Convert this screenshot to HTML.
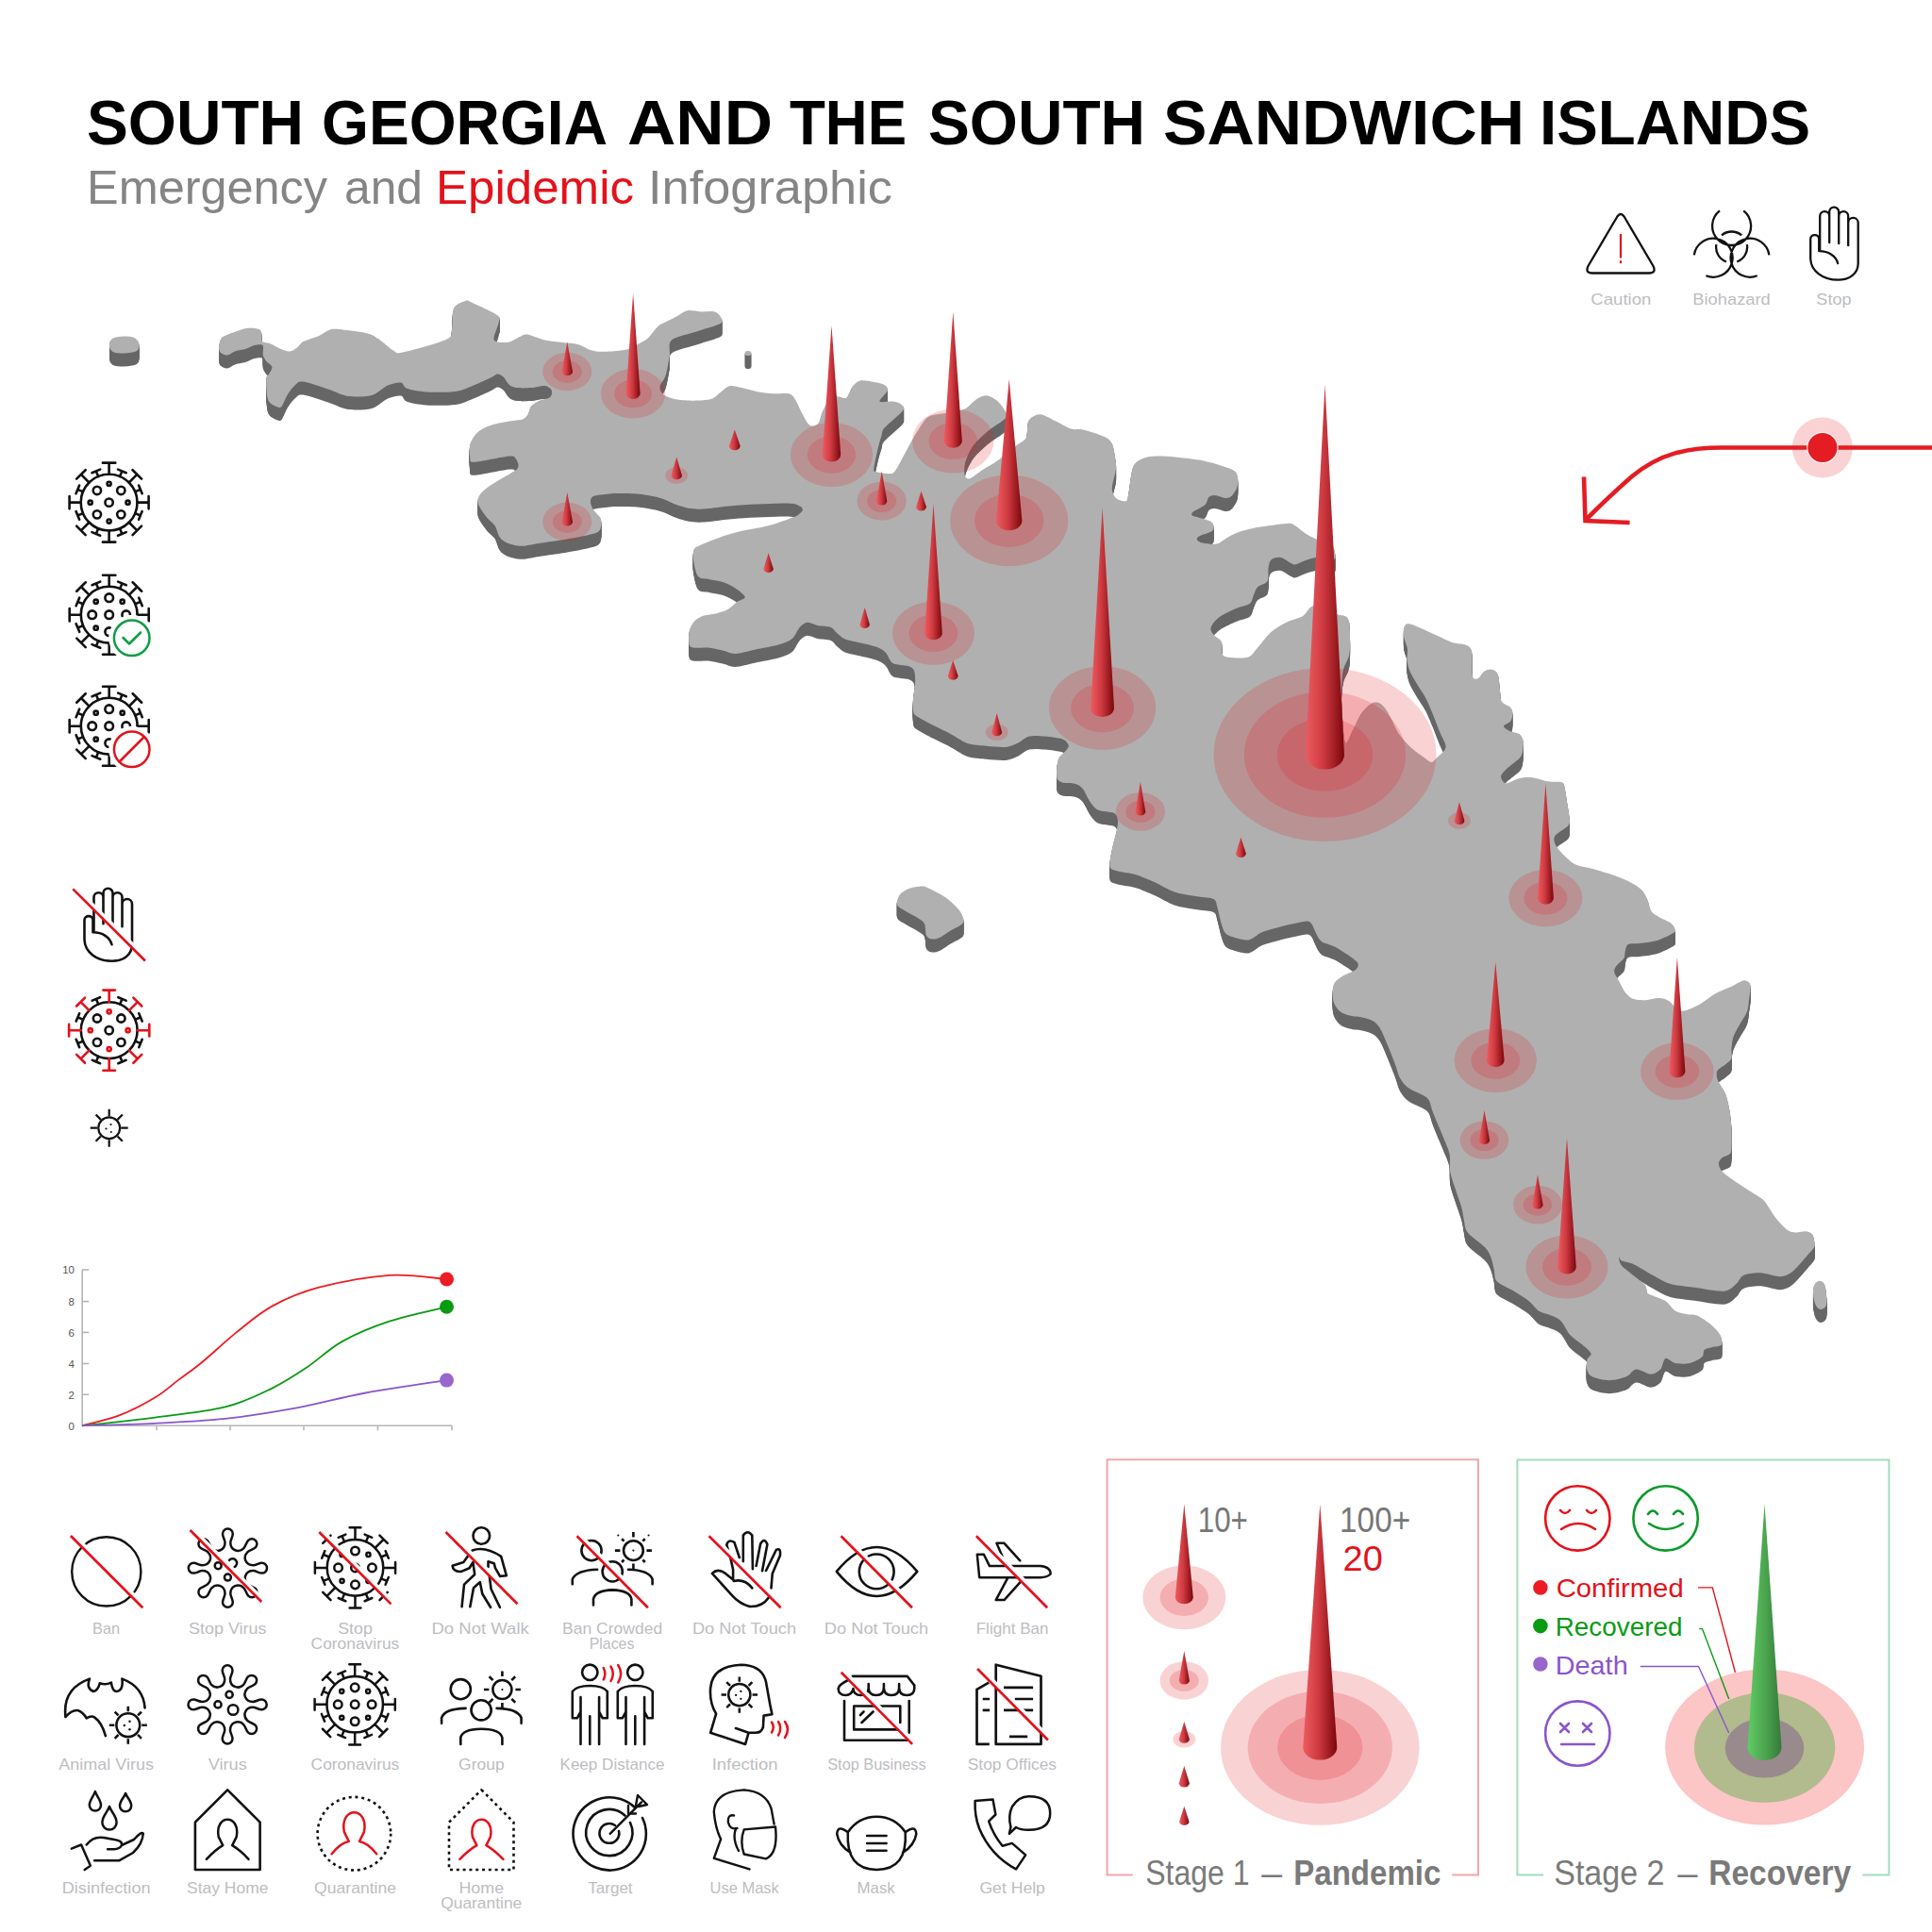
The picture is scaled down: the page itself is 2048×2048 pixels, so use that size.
<!DOCTYPE html>
<html><head><meta charset="utf-8"><title>South Georgia and the South Sandwich Islands - Emergency and Epidemic Infographic</title>
<style>html,body{margin:0;padding:0;background:#fff}svg{display:block}text{font-family:"Liberation Sans",sans-serif}</style>
</head><body>
<svg width="2048" height="2048" viewBox="0 0 2048 2048">
<defs>
<linearGradient id="cg" x1="0" x2="1" y1="0" y2="0">
<stop offset="0" stop-color="#ec5c60"/><stop offset="0.45" stop-color="#cf3a41"/><stop offset="1" stop-color="#7a070b"/>
</linearGradient>
<linearGradient id="gg" x1="0" x2="1" y1="0" y2="0">
<stop offset="0" stop-color="#5fcc62"/><stop offset="0.5" stop-color="#4ca650"/><stop offset="1" stop-color="#357a39"/>
</linearGradient>
<path id="land" d="M233.0,362.5C233.5,360.9 233.7,358.9 235.5,357.5C237.3,356.1 241.0,354.6 244.9,353.2C248.8,351.8 257.1,348.7 261.5,348.0C265.9,347.3 271.5,348.0 273.9,348.8C276.3,349.6 277.0,351.5 277.6,353.5C278.2,355.5 276.7,360.4 278.0,362.0C279.3,363.6 283.5,363.1 286.3,364.2C289.1,365.3 293.6,368.2 296.7,369.4C299.8,370.6 304.2,372.7 307.0,372.5C309.8,372.3 313.1,369.9 315.3,368.3C317.5,366.7 318.1,364.0 321.5,362.1C324.9,360.2 333.8,357.8 338.1,355.9C342.5,354.0 346.5,350.2 350.5,349.3C354.5,348.4 359.1,349.1 365.0,349.7C370.9,350.3 384.3,351.9 389.9,353.4C395.5,354.9 398.3,357.3 402.3,360.0C406.3,362.7 413.1,369.4 416.8,371.4C420.5,373.4 418.7,375.2 427.1,373.5C435.5,371.8 464.9,363.6 472.7,360.0C480.5,356.4 477.7,354.7 478.9,349.7C480.1,344.7 478.8,331.5 481.0,326.9C483.2,322.3 490.4,319.9 493.4,319.0C496.4,318.1 495.6,318.7 500.7,321.0C505.8,323.3 523.4,331.4 527.6,334.5C531.8,337.6 529.3,338.2 528.7,341.8C528.1,345.4 523.7,355.2 523.5,358.3C523.3,361.4 525.1,361.9 527.6,362.5C530.1,363.1 536.6,363.3 540.0,362.5C543.4,361.7 547.6,358.5 550.4,357.3C553.2,356.1 554.7,354.1 558.7,354.6C562.7,355.1 571.7,359.2 577.3,360.4C582.9,361.6 590.7,362.2 596.0,362.9C601.3,363.6 608.1,363.8 612.5,365.0C616.9,366.2 621.3,369.5 625.0,370.7C628.7,371.9 632.3,372.7 637.3,372.8C642.2,372.9 653.6,371.9 658.0,371.4C662.4,370.9 663.2,370.9 666.3,369.7C669.4,368.5 675.7,365.2 678.8,363.5C681.9,361.8 684.2,360.9 687.0,358.3C689.8,355.7 694.3,348.6 697.4,345.9C700.5,343.2 704.6,341.9 707.7,340.3C710.8,338.7 715.0,336.8 718.1,335.1C721.2,333.5 724.7,330.0 728.4,329.3C732.1,328.6 738.6,330.2 743.0,330.4C747.4,330.6 754.3,329.6 757.4,330.4C760.5,331.2 762.6,333.6 763.6,335.5C764.6,337.4 767.5,340.5 764.0,342.8C760.5,345.1 747.8,348.3 740.0,351.0C732.2,353.7 716.5,356.6 712.0,360.5C707.5,364.4 710.7,371.4 709.8,377.0C708.9,382.6 707.2,392.8 705.7,397.7C704.2,402.6 699.8,406.9 699.5,410.0C699.2,413.1 700.8,416.4 703.6,418.4C706.4,420.4 712.7,422.6 718.0,423.5C723.3,424.4 733.2,424.8 738.8,424.6C744.4,424.5 751.4,424.1 755.4,422.5C759.4,420.9 762.9,416.2 765.7,414.2C768.5,412.2 770.9,409.5 774.0,409.0C777.1,408.5 782.0,410.2 786.4,411.1C790.8,412.0 798.0,414.4 803.0,415.3C808.0,416.2 814.5,417.0 819.5,417.3C824.5,417.6 832.6,416.5 836.0,417.3C839.4,418.1 840.1,419.2 842.3,422.5C844.5,425.8 848.4,435.0 850.6,439.0C852.8,443.0 854.9,447.5 856.8,449.4C858.7,451.3 861.3,451.8 863.0,451.5C864.7,451.2 866.9,449.8 868.3,447.3C869.7,444.8 870.5,439.0 872.4,435.0C874.3,431.0 878.2,422.6 880.7,420.4C883.2,418.2 886.5,420.2 889.0,420.4C891.5,420.6 895.1,423.1 897.3,421.5C899.5,419.9 901.3,412.7 903.5,410.0C905.7,407.3 908.4,404.3 911.8,403.5C915.2,402.7 922.4,404.2 926.3,404.9C930.2,405.6 935.4,406.6 937.6,408.0C939.8,409.4 941.5,411.6 940.7,414.2C939.9,416.8 931.6,423.9 932.5,425.6C933.4,427.3 943.6,425.1 947.0,425.6C950.4,426.1 953.7,427.3 955.2,428.7C956.7,430.1 959.9,431.2 957.3,434.9C954.7,438.6 941.0,449.6 937.6,453.6C934.2,457.6 935.6,458.4 934.5,461.8C933.4,465.2 931.6,471.0 930.4,476.3C929.2,481.6 926.6,493.4 926.3,497.0C926.0,500.6 925.8,499.3 928.3,500.1C930.8,500.9 939.7,502.3 942.8,502.2C945.9,502.1 946.5,502.4 949.0,499.1C951.5,495.8 956.3,486.1 959.4,480.5C962.5,474.9 966.3,467.4 969.7,461.8C973.1,456.2 978.5,446.6 982.2,443.2C985.9,439.8 990.6,439.9 994.6,439.0C998.6,438.1 1004.6,437.9 1009.0,437.0C1013.4,436.1 1019.6,435.1 1023.6,432.9C1027.7,430.7 1032.6,424.5 1036.0,422.5C1039.4,420.5 1043.2,419.1 1046.3,419.4C1049.4,419.7 1053.9,422.3 1056.7,424.6C1059.5,426.9 1063.6,432.2 1065.0,435.0C1066.4,437.8 1068.8,439.8 1066.0,443.2C1063.2,446.6 1051.4,453.3 1046.3,457.7C1041.2,462.1 1035.2,467.5 1031.8,472.2C1028.4,476.9 1025.0,484.1 1023.6,488.8C1022.2,493.5 1021.9,500.5 1022.5,503.3C1023.1,506.1 1025.1,508.0 1027.7,507.4C1030.3,506.8 1035.8,501.9 1040.1,499.1C1044.4,496.3 1051.1,492.8 1056.7,488.8C1062.3,484.8 1072.8,475.9 1077.4,472.2C1082.1,468.5 1085.8,467.6 1087.7,463.9C1089.6,460.2 1088.6,450.7 1089.8,447.3C1091.0,443.9 1093.8,442.3 1096.0,441.1C1098.2,439.9 1100.9,438.7 1104.3,439.5C1107.7,440.3 1114.1,444.0 1118.8,446.3C1123.5,448.6 1131.1,453.2 1135.4,454.6C1139.8,456.0 1142.5,454.4 1147.8,455.6C1153.1,456.8 1165.9,460.7 1170.6,462.9C1175.2,465.1 1177.1,466.8 1178.8,470.1C1180.5,473.4 1181.4,480.6 1182.0,484.6C1182.6,488.6 1183.5,492.0 1183.0,497.0C1182.5,502.0 1178.8,513.0 1178.8,517.7C1178.8,522.4 1181.1,526.1 1183.0,528.1C1184.9,530.1 1189.4,531.2 1191.3,531.2C1193.2,531.2 1194.2,532.6 1195.4,528.1C1196.6,523.6 1198.3,506.8 1199.5,501.2C1200.7,495.6 1201.2,493.3 1203.7,490.8C1206.2,488.3 1211.8,485.7 1216.1,484.6C1220.4,483.5 1227.6,483.5 1232.7,483.6C1237.8,483.7 1244.3,484.4 1250.0,485.0C1255.7,485.6 1264.7,486.4 1271.0,487.6C1277.3,488.8 1286.2,491.1 1291.8,492.8C1297.4,494.5 1305.3,497.0 1308.3,499.0C1311.3,501.0 1311.5,503.7 1312.0,506.3C1312.5,508.9 1312.3,513.8 1311.4,516.6C1310.5,519.4 1308.0,523.2 1306.3,524.9C1304.6,526.6 1302.8,528.0 1300.0,528.0C1297.2,528.0 1290.4,525.0 1287.6,524.9C1284.8,524.8 1282.9,525.5 1281.4,527.0C1279.9,528.5 1279.8,532.9 1277.3,535.2C1274.8,537.5 1266.8,540.8 1264.8,542.5C1262.8,544.2 1262.9,545.7 1263.8,546.6C1264.7,547.5 1268.0,547.8 1271.0,548.7C1274.0,549.6 1281.2,551.4 1283.5,552.8C1285.8,554.2 1286.4,556.4 1286.6,558.0C1286.8,559.6 1286.8,561.6 1284.5,563.2C1282.2,564.8 1273.3,567.0 1271.0,568.4C1268.7,569.8 1268.4,571.4 1269.0,572.5C1269.6,573.6 1272.1,575.0 1275.2,575.6C1278.3,576.2 1286.0,577.4 1289.7,576.6C1293.4,575.8 1296.6,572.3 1300.0,570.4C1303.4,568.5 1307.5,565.9 1312.5,564.2C1317.5,562.5 1325.4,560.4 1333.2,559.0C1341.0,557.6 1358.3,555.2 1364.2,554.9C1370.1,554.6 1369.4,555.3 1372.5,557.0C1375.6,558.7 1381.3,564.0 1385.0,566.3C1388.7,568.6 1393.4,570.6 1397.4,572.5C1401.4,574.4 1409.2,576.8 1411.8,578.7C1414.4,580.6 1414.7,582.8 1415.0,585.0C1415.3,587.2 1417.0,592.3 1414.0,593.2C1411.0,594.1 1400.3,590.8 1395.3,591.1C1390.3,591.4 1384.4,594.2 1380.8,595.3C1377.2,596.4 1374.9,599.0 1371.5,598.4C1368.1,597.8 1361.6,591.9 1358.0,591.1C1354.4,590.3 1349.7,591.6 1347.7,593.2C1345.7,594.8 1345.2,598.1 1344.6,601.5C1344.0,604.9 1345.2,612.9 1343.5,616.0C1341.8,619.1 1335.4,620.0 1333.2,622.2C1331.0,624.4 1330.2,627.9 1329.0,630.5C1327.8,633.1 1327.7,637.6 1324.9,639.8C1322.1,642.0 1315.1,643.0 1310.4,645.0C1305.7,647.0 1297.5,650.8 1293.8,653.3C1290.1,655.8 1287.0,659.3 1285.5,661.5C1284.0,663.7 1283.2,665.8 1283.5,667.7C1283.8,669.6 1285.9,672.1 1287.6,674.0C1289.3,675.9 1293.7,677.3 1294.9,680.2C1296.1,683.1 1294.8,691.1 1295.9,693.6C1297.0,696.1 1298.1,696.2 1302.1,696.7C1306.1,697.2 1318.1,698.2 1322.8,696.7C1327.5,695.2 1329.5,690.4 1333.2,686.4C1336.9,682.4 1343.0,673.8 1347.7,669.8C1352.4,665.8 1359.2,662.0 1364.2,659.5C1369.2,657.0 1377.1,655.6 1380.8,653.3C1384.5,651.0 1386.5,645.7 1389.0,644.0C1391.5,642.3 1393.1,640.8 1397.4,641.9C1401.8,643.0 1413.7,649.5 1418.0,651.2C1422.3,652.9 1424.4,651.8 1426.3,653.3C1428.2,654.8 1429.9,655.6 1430.5,661.5C1431.1,667.4 1431.5,685.3 1430.5,692.6C1429.5,699.9 1425.3,704.4 1424.0,710.0C1422.7,715.6 1422.2,722.5 1422.0,730.0C1421.8,737.5 1422.4,751.4 1423.0,760.0C1423.6,768.6 1424.6,785.4 1426.3,787.3C1428.0,789.2 1432.1,777.4 1434.6,772.8C1437.1,768.1 1440.2,760.3 1443.0,756.3C1445.8,752.3 1450.5,747.6 1453.3,745.9C1456.1,744.2 1459.3,744.3 1461.5,744.9C1463.7,745.5 1465.8,747.7 1467.7,750.0C1469.6,752.3 1471.8,756.4 1474.0,760.4C1476.2,764.4 1479.1,772.4 1482.2,777.0C1485.3,781.6 1490.7,787.5 1494.7,791.4C1498.8,795.3 1505.8,800.3 1509.2,802.8C1512.6,805.3 1515.2,808.0 1517.4,808.0C1519.6,808.0 1521.6,804.7 1523.6,802.8C1525.6,800.9 1529.7,797.6 1531.0,795.6C1532.3,793.6 1532.9,792.2 1532.3,789.4C1531.7,786.6 1528.8,782.0 1526.7,777.0C1524.6,772.0 1520.8,761.9 1518.5,756.3C1516.2,750.7 1513.7,744.4 1511.2,739.7C1508.7,735.0 1504.5,729.2 1502.0,725.0C1499.5,720.8 1496.3,715.8 1494.7,712.0C1493.1,708.2 1491.9,703.6 1491.5,700.0C1491.1,696.4 1492.5,691.6 1492.0,688.0C1491.5,684.4 1488.9,679.5 1488.4,676.0C1487.9,672.5 1487.5,667.2 1488.4,665.0C1489.3,662.8 1490.0,660.5 1494.7,661.5C1499.4,662.5 1512.7,668.9 1519.5,671.9C1526.3,674.9 1535.2,679.5 1540.2,681.2C1545.2,682.9 1549.6,682.0 1552.6,683.3C1555.6,684.6 1558.7,685.0 1560.0,690.0C1561.3,695.0 1559.9,712.5 1561.0,716.9C1562.1,721.2 1565.3,719.8 1567.1,719.0C1568.9,718.2 1571.1,713.1 1573.3,711.7C1575.5,710.3 1579.4,709.2 1581.6,709.7C1583.8,710.2 1586.5,711.5 1587.8,714.8C1589.1,718.1 1589.4,727.0 1590.0,731.4C1590.6,735.8 1590.3,741.0 1592.0,743.8C1593.7,746.6 1599.6,748.1 1601.3,750.0C1603.0,751.9 1603.4,754.1 1603.4,756.3C1603.4,758.5 1602.7,762.5 1601.3,764.5C1599.9,766.5 1594.2,768.1 1594.0,769.7C1593.8,771.3 1597.7,773.7 1600.2,774.9C1602.7,776.1 1608.4,776.5 1610.6,778.0C1612.8,779.5 1614.1,783.1 1614.7,785.2C1615.3,787.3 1614.9,789.4 1614.5,792.0C1614.1,794.6 1614.4,799.0 1611.8,802.4C1609.2,805.8 1600.4,811.7 1597.3,814.8C1594.2,817.9 1591.2,820.8 1591.1,823.1C1590.9,825.4 1593.5,830.1 1596.3,830.4C1599.1,830.7 1605.5,826.1 1609.7,825.2C1613.9,824.3 1619.5,823.7 1624.2,824.2C1628.9,824.7 1636.1,827.5 1640.8,828.3C1645.5,829.1 1652.7,828.5 1655.3,829.3C1657.9,830.1 1657.5,830.1 1658.4,833.5C1659.3,836.9 1660.7,847.1 1661.5,852.1C1662.3,857.1 1663.4,863.2 1663.6,866.6C1663.8,870.0 1664.7,872.1 1662.5,874.9C1660.3,877.7 1651.2,882.4 1649.0,885.2C1646.8,888.0 1647.1,890.7 1648.0,893.5C1648.9,896.3 1652.0,900.5 1655.3,903.9C1658.6,907.3 1665.1,913.8 1669.8,916.3C1674.5,918.8 1680.7,918.9 1686.3,920.4C1691.9,921.9 1700.8,924.4 1707.0,926.6C1713.2,928.8 1722.7,932.4 1727.7,934.9C1732.7,937.4 1737.4,940.4 1740.2,943.2C1743.0,946.0 1744.9,950.2 1746.4,953.6C1747.9,957.0 1748.6,963.2 1750.5,966.0C1752.4,968.8 1755.7,970.3 1758.8,972.2C1761.9,974.1 1768.7,976.5 1771.2,978.4C1773.7,980.3 1774.9,983.0 1775.4,984.6C1775.9,986.2 1777.1,986.9 1774.3,988.8C1771.5,990.7 1762.1,995.3 1756.7,997.0C1751.3,998.7 1742.8,999.5 1738.1,1000.1C1733.4,1000.7 1728.0,999.8 1725.7,1001.2C1723.4,1002.6 1723.2,1007.3 1722.6,1009.5C1722.0,1011.7 1722.9,1013.5 1721.5,1015.7C1720.1,1017.9 1714.8,1021.8 1713.3,1024.0C1711.8,1026.2 1710.9,1028.0 1711.2,1030.2C1711.5,1032.4 1713.4,1035.0 1715.3,1038.4C1717.2,1041.8 1721.1,1049.8 1723.6,1052.9C1726.1,1056.0 1728.8,1058.0 1731.9,1059.1C1735.0,1060.2 1740.3,1060.4 1744.3,1060.2C1748.3,1060.0 1755.1,1057.9 1758.8,1058.1C1762.5,1058.2 1765.8,1059.2 1769.2,1061.2C1772.6,1063.2 1776.9,1071.0 1781.6,1071.6C1786.2,1072.2 1794.6,1068.2 1800.2,1065.4C1805.8,1062.6 1813.5,1056.0 1818.8,1053.0C1824.1,1050.0 1831.1,1047.7 1835.4,1045.7C1839.8,1043.7 1845.0,1040.1 1847.8,1039.5C1850.6,1038.9 1852.8,1040.5 1854.0,1041.6C1855.2,1042.7 1855.7,1043.9 1855.7,1046.7C1855.7,1049.5 1854.6,1056.1 1854.0,1060.0C1853.4,1063.9 1853.5,1068.4 1851.9,1072.4C1850.3,1076.4 1845.8,1082.9 1843.6,1086.9C1841.4,1090.9 1838.6,1095.6 1837.4,1099.3C1836.2,1103.0 1835.7,1108.4 1835.4,1111.8C1835.1,1115.2 1836.3,1119.6 1835.4,1122.1C1834.5,1124.6 1831.4,1126.4 1829.2,1128.3C1827.0,1130.2 1822.3,1132.6 1820.9,1134.5C1819.5,1136.4 1819.6,1138.8 1819.8,1140.7C1820.0,1142.6 1820.5,1144.2 1821.9,1147.0C1823.3,1149.8 1827.5,1155.1 1829.2,1159.4C1830.9,1163.8 1832.4,1170.7 1833.3,1176.0C1834.2,1181.3 1835.1,1188.4 1835.4,1194.6C1835.7,1200.8 1835.7,1213.1 1835.4,1217.4C1835.1,1221.8 1834.9,1222.1 1833.3,1223.6C1831.7,1225.1 1826.7,1226.2 1825.0,1227.7C1823.3,1229.2 1821.8,1231.7 1821.9,1233.9C1822.1,1236.1 1823.4,1239.4 1826.0,1242.2C1828.6,1245.0 1835.3,1249.5 1839.5,1252.5C1843.7,1255.5 1849.7,1259.1 1854.0,1261.9C1858.3,1264.7 1865.4,1268.6 1868.5,1271.2C1871.6,1273.8 1872.5,1276.4 1874.7,1279.5C1876.9,1282.6 1879.9,1288.2 1883.0,1291.9C1886.1,1295.6 1892.3,1302.1 1895.4,1304.3C1898.5,1306.5 1900.9,1306.2 1903.7,1306.4C1906.5,1306.6 1911.4,1305.0 1914.0,1305.3C1916.6,1305.6 1919.9,1306.7 1921.3,1308.4C1922.7,1310.1 1923.1,1314.6 1923.4,1316.7C1923.7,1318.8 1924.4,1319.9 1923.2,1322.1C1922.0,1324.3 1919.0,1327.3 1915.5,1331.2C1912.0,1335.1 1904.3,1344.7 1900.0,1348.0C1895.7,1351.3 1892.1,1353.0 1887.0,1353.2C1881.9,1353.4 1872.1,1349.5 1866.3,1349.3C1860.5,1349.1 1852.1,1350.1 1848.2,1351.9C1844.3,1353.7 1843.5,1358.5 1840.4,1361.0C1837.3,1363.5 1834.1,1368.1 1827.5,1368.7C1820.9,1369.3 1804.9,1366.0 1796.4,1364.8C1787.9,1363.6 1777.2,1362.9 1770.6,1361.0C1764.0,1359.1 1758.2,1355.0 1752.4,1351.9C1746.6,1348.8 1736.7,1342.5 1731.7,1340.2C1726.7,1337.9 1721.1,1337.5 1718.8,1336.3C1716.5,1335.1 1716.5,1332.2 1716.2,1332.5C1715.9,1332.8 1716.2,1336.3 1717.0,1338.0C1717.8,1339.7 1718.0,1341.1 1721.4,1344.1C1724.8,1347.1 1736.0,1355.4 1739.5,1358.3C1743.0,1361.2 1743.5,1361.5 1744.7,1363.5C1745.9,1365.5 1744.2,1369.0 1747.3,1371.3C1750.4,1373.6 1761.1,1376.3 1765.4,1379.0C1769.7,1381.7 1772.2,1387.3 1775.7,1389.4C1779.2,1391.5 1785.2,1392.5 1788.7,1393.3C1792.2,1394.1 1795.1,1392.9 1799.0,1394.6C1802.9,1396.3 1810.9,1401.8 1814.6,1404.9C1818.3,1408.0 1822.1,1412.2 1823.6,1415.3C1825.1,1418.4 1826.2,1423.7 1824.9,1425.6C1823.6,1427.5 1817.3,1427.4 1814.6,1428.2C1811.9,1429.0 1808.4,1429.2 1806.8,1430.8C1805.2,1432.4 1806.5,1436.5 1804.2,1438.6C1801.9,1440.7 1795.6,1444.0 1791.3,1445.0C1787.0,1446.0 1779.6,1445.8 1775.7,1445.0C1771.8,1444.2 1767.7,1438.9 1765.4,1439.9C1763.1,1440.9 1762.5,1449.0 1760.2,1451.5C1757.9,1454.0 1753.8,1456.7 1749.9,1456.7C1746.0,1456.7 1738.2,1451.1 1734.3,1451.5C1730.4,1451.9 1728.3,1457.5 1724.0,1459.3C1719.7,1461.1 1711.3,1463.2 1705.9,1463.2C1700.5,1463.2 1691.3,1461.1 1687.7,1459.3C1684.1,1457.5 1682.8,1454.2 1682.0,1451.5C1681.2,1448.8 1681.9,1443.7 1682.6,1441.2C1683.3,1438.7 1687.3,1437.0 1686.5,1434.7C1685.7,1432.4 1680.7,1428.5 1677.4,1425.6C1674.1,1422.7 1668.0,1419.2 1664.5,1415.3C1661.0,1411.4 1657.6,1403.0 1654.1,1399.7C1650.6,1396.4 1644.7,1394.8 1641.2,1393.3C1637.7,1391.8 1633.9,1391.5 1630.8,1389.4C1627.7,1387.3 1624.4,1382.1 1620.5,1379.0C1616.6,1375.9 1610.0,1371.8 1604.9,1368.7C1599.8,1365.6 1590.0,1361.8 1586.8,1358.3C1583.6,1354.8 1584.7,1349.3 1583.7,1345.4C1582.7,1341.5 1581.8,1336.0 1580.3,1332.5C1578.8,1329.0 1577.6,1326.0 1573.9,1322.1C1570.2,1318.2 1559.1,1310.9 1555.8,1306.6C1552.5,1302.3 1552.8,1297.5 1551.9,1293.6C1551.0,1289.7 1551.0,1286.1 1549.6,1280.9C1548.2,1275.7 1544.2,1265.0 1542.3,1259.1C1540.4,1253.2 1538.1,1247.1 1537.2,1241.7C1536.3,1236.3 1537.7,1228.5 1536.5,1222.9C1535.3,1217.3 1531.9,1210.6 1529.3,1204.1C1526.7,1197.6 1521.3,1185.1 1519.1,1179.4C1516.9,1173.7 1516.5,1169.2 1514.8,1166.4C1513.1,1163.6 1510.8,1162.6 1507.5,1160.6C1504.2,1158.6 1496.5,1155.9 1493.0,1153.3C1489.5,1150.7 1486.5,1147.1 1484.3,1143.2C1482.1,1139.3 1480.8,1132.9 1478.6,1127.2C1476.4,1121.5 1472.3,1111.1 1469.9,1105.5C1467.5,1099.9 1464.8,1093.1 1462.6,1089.6C1460.4,1086.1 1458.0,1083.9 1455.4,1082.3C1452.8,1080.7 1448.9,1079.6 1445.2,1078.7C1441.5,1077.8 1434.4,1077.5 1430.7,1076.5C1427.0,1075.5 1423.1,1074.2 1420.6,1072.2C1418.1,1070.2 1415.3,1066.5 1414.1,1063.5C1412.9,1060.5 1412.5,1055.2 1412.6,1051.9C1412.7,1048.6 1413.2,1044.3 1414.8,1041.7C1416.4,1039.1 1420.2,1036.6 1423.5,1034.5C1426.8,1032.4 1434.6,1030.0 1437.0,1028.0C1439.4,1026.0 1440.4,1023.3 1439.5,1021.2C1438.6,1019.1 1435.0,1016.6 1431.3,1014.0C1427.6,1011.4 1419.4,1006.1 1414.7,1003.6C1410.0,1001.1 1403.3,999.9 1400.2,997.4C1397.1,994.9 1395.5,989.8 1394.0,987.0C1392.5,984.2 1391.5,980.3 1389.9,978.8C1388.3,977.3 1388.3,976.2 1383.6,976.7C1378.9,977.2 1365.6,980.2 1358.8,981.9C1352.0,983.6 1343.4,985.9 1338.1,988.1C1332.8,990.3 1328.3,995.6 1323.6,996.4C1318.9,997.2 1310.7,994.4 1307.0,993.3C1303.3,992.2 1300.7,991.3 1298.8,989.1C1296.9,986.9 1295.8,982.8 1294.6,978.8C1293.4,974.8 1291.7,966.1 1290.5,962.2C1289.3,958.3 1290.0,954.8 1286.3,952.9C1282.6,951.0 1271.8,950.9 1265.6,949.8C1259.4,948.7 1251.1,947.8 1244.9,945.6C1238.7,943.4 1230.4,938.1 1224.2,935.3C1218.0,932.5 1209.1,928.7 1203.5,927.0C1197.9,925.3 1190.9,924.8 1187.0,923.9C1183.1,923.0 1179.2,922.5 1177.6,920.8C1176.0,919.1 1176.3,916.2 1176.6,912.5C1176.9,908.8 1178.6,900.9 1179.7,895.9C1180.8,890.9 1183.1,883.4 1183.9,879.4C1184.7,875.4 1185.4,871.6 1184.9,869.0C1184.4,866.4 1183.8,863.3 1180.7,861.8C1177.6,860.3 1167.9,860.4 1164.2,858.7C1160.5,857.0 1158.4,853.8 1155.9,850.4C1153.4,847.0 1150.1,838.9 1147.6,835.9C1145.1,832.9 1142.4,831.6 1139.3,830.7C1136.2,829.8 1129.7,830.5 1126.9,829.7C1124.1,828.9 1121.7,828.0 1120.7,825.5C1119.7,823.0 1120.0,816.5 1120.3,813.1C1120.6,809.7 1121.3,805.5 1122.8,802.8C1124.3,800.1 1129.0,797.0 1130.5,795.0C1132.0,793.0 1133.2,791.5 1132.6,789.8C1132.0,788.1 1130.1,785.0 1126.4,783.6C1122.7,782.2 1113.0,781.0 1107.7,780.5C1102.4,780.0 1095.5,779.4 1091.2,780.5C1086.9,781.6 1082.5,786.0 1078.8,787.7C1075.1,789.4 1071.3,791.4 1066.3,791.9C1061.3,792.4 1051.8,791.4 1045.6,790.8C1039.4,790.2 1030.5,789.6 1024.9,787.7C1019.3,785.8 1013.7,781.2 1008.4,778.4C1003.1,775.6 995.3,772.0 989.7,769.1C984.1,766.2 974.4,761.3 971.1,758.8C967.8,756.3 968.5,755.3 968.0,752.5C967.5,749.7 967.7,744.4 968.0,740.1C968.3,735.8 970.0,728.0 970.1,723.6C970.2,719.2 970.1,713.7 969.0,711.1C967.9,708.5 966.2,707.2 962.8,706.0C959.4,704.8 949.9,705.0 946.3,702.9C942.7,700.8 941.5,694.4 938.8,691.8C936.1,689.2 933.1,687.3 928.4,685.6C923.7,683.9 912.7,681.7 907.7,680.5C902.7,679.3 898.4,678.7 895.3,677.3C892.2,675.9 889.2,673.0 887.0,671.1C884.8,669.2 883.9,666.1 880.8,664.9C877.7,663.7 870.0,663.7 866.3,662.9C862.6,662.1 858.8,659.5 856.0,659.8C853.2,660.1 850.2,662.3 847.7,664.9C845.2,667.5 842.8,674.5 839.4,677.3C836.0,680.1 830.8,681.9 824.9,683.6C819.0,685.3 806.9,687.3 800.1,688.7C793.3,690.1 784.4,692.7 779.4,692.9C774.4,693.1 771.0,690.7 767.0,689.8C763.0,688.9 757.2,687.2 752.5,686.7C747.8,686.2 739.2,687.2 735.9,686.7C732.6,686.2 731.5,686.2 730.7,683.6C729.9,681.0 729.9,672.8 730.7,669.1C731.5,665.4 733.6,661.2 735.9,658.7C738.2,656.2 742.9,653.7 746.3,652.5C749.7,651.3 755.0,651.3 758.7,650.4C762.4,649.5 767.7,648.2 771.1,646.3C774.5,644.4 778.6,640.0 781.4,638.0C784.2,636.0 790.0,635.0 789.7,632.8C789.4,630.6 782.8,625.8 779.4,623.5C776.0,621.2 771.0,618.7 767.0,617.3C763.0,615.9 756.5,615.1 752.5,614.2C748.5,613.3 742.6,614.4 740.0,611.1C737.4,607.8 735.5,596.9 734.9,592.5C734.3,588.1 734.8,584.3 735.9,582.1C737.0,579.9 738.1,579.9 742.1,578.0C746.1,576.1 756.6,571.9 762.8,569.7C769.0,567.5 775.7,565.4 783.5,563.5C791.3,561.6 805.9,559.6 814.6,557.3C823.3,555.0 836.6,549.8 841.5,548.0C846.4,546.2 845.6,546.1 847.0,545.0C848.4,543.9 850.7,542.0 850.8,540.7C850.9,539.4 850.0,537.7 847.7,536.6C845.4,535.5 844.9,533.7 835.3,533.5C825.7,533.3 797.5,534.6 783.5,535.5C769.5,536.4 751.4,539.5 742.1,539.7C732.8,539.9 727.6,538.3 721.4,536.6C715.2,534.9 706.9,530.2 700.7,528.3C694.5,526.4 686.1,524.9 680.0,524.1C673.9,523.3 665.2,523.1 660.0,523.0C654.8,522.9 650.2,523.0 645.6,523.5C641.0,524.0 632.0,524.7 629.1,526.0C626.2,527.3 626.0,530.0 626.0,532.2C626.0,534.4 627.6,538.0 629.1,540.5C630.6,543.0 635.1,546.3 636.3,548.8C637.5,551.3 637.8,554.8 637.3,557.1C636.8,559.4 636.9,562.4 633.2,564.3C629.5,566.2 619.3,568.1 612.5,569.5C605.7,570.9 594.5,572.5 587.7,573.6C580.9,574.7 572.3,575.9 567.0,576.7C561.7,577.5 556.9,578.9 552.5,578.8C548.1,578.6 541.4,577.1 538.0,575.7C534.6,574.3 531.7,572.3 529.7,569.5C527.7,566.7 526.5,560.2 524.5,557.1C522.5,554.0 518.8,552.2 516.2,548.8C513.6,545.4 508.0,538.0 506.9,534.3C505.8,530.6 506.8,527.1 509.0,524.0C511.2,520.9 516.4,517.0 521.4,513.6C526.4,510.2 538.1,503.7 542.1,501.2C546.1,498.7 547.2,498.4 548.3,497.0C549.4,495.6 549.7,493.6 549.4,491.9C549.1,490.2 547.7,486.9 546.3,485.7C544.9,484.5 546.5,483.0 540.0,483.6C533.5,484.2 509.1,489.7 502.8,489.8C496.5,489.9 498.8,487.6 498.2,484.6C497.6,481.6 497.3,474.1 498.6,470.1C499.9,466.1 503.5,460.6 506.9,457.7C510.3,454.8 516.1,452.2 521.4,450.5C526.7,448.8 537.1,447.2 542.1,446.3C547.1,445.4 551.9,445.3 554.5,444.2C557.1,443.1 558.5,441.1 559.7,439.1C560.9,437.1 561.1,432.9 562.8,430.8C564.5,428.7 568.1,426.4 571.1,425.0C574.1,423.6 580.4,422.8 582.5,421.5C584.6,420.2 584.9,417.7 585.0,416.3C585.1,414.9 584.7,413.2 583.5,412.1C582.3,411.0 580.4,409.1 577.3,409.0C574.2,408.9 567.1,410.8 562.8,411.1C558.4,411.4 551.7,411.6 548.3,411.1C544.9,410.6 542.2,409.7 540.0,408.0C537.8,406.3 535.7,401.4 533.8,399.7C531.9,398.0 529.5,396.6 527.6,396.6C525.7,396.6 525.4,397.8 521.4,399.7C517.4,401.6 506.5,406.7 500.7,409.0C494.9,411.3 490.3,414.0 483.0,415.0C475.7,416.0 459.8,416.0 452.0,415.5C444.2,415.0 435.4,413.3 431.3,411.8C427.2,410.3 428.1,406.1 425.0,405.6C421.9,405.1 415.2,406.7 410.6,408.7C406.0,410.7 400.2,417.3 394.0,419.0C387.8,420.7 376.0,421.0 369.2,420.1C362.4,419.2 355.6,415.1 348.4,412.8C341.2,410.5 326.8,405.4 321.5,404.6C316.2,403.8 315.8,405.7 313.3,407.7C310.8,409.7 307.2,414.6 305.0,418.0C302.8,421.4 300.4,428.4 298.8,430.4C297.2,432.4 296.8,432.4 294.6,431.5C292.4,430.6 286.2,428.7 284.3,424.2C282.4,419.7 282.1,405.6 282.2,401.4C282.3,397.2 284.4,398.2 285.3,396.3C286.2,394.4 288.9,391.0 288.4,389.0C287.9,387.0 283.6,384.7 282.2,382.8C280.8,380.9 279.4,379.1 278.8,376.6C278.2,374.1 279.8,367.6 278.5,366.0C277.2,364.4 272.6,365.5 270.0,366.0C267.4,366.5 264.6,368.4 261.5,369.4C258.4,370.4 252.1,371.4 249.0,372.5C245.9,373.6 243.1,376.5 240.8,376.6C238.5,376.8 234.8,374.8 233.5,373.5C232.2,372.2 232.1,369.6 232.0,368.0C231.9,366.4 232.5,364.1 233.0,362.5ZM951.1,954.8C951.8,953.0 952.6,949.5 954.8,947.3C957.0,945.1 960.6,943.0 964.2,941.7C967.8,940.4 973.5,939.8 976.6,939.6C979.7,939.5 980.2,939.8 982.8,940.8C985.4,941.8 988.5,943.5 992.1,945.5C995.7,947.5 1000.6,949.9 1004.5,952.9C1008.4,955.9 1013.0,960.3 1015.7,963.5C1018.4,966.7 1019.8,969.8 1020.7,972.2C1021.6,974.6 1021.9,976.2 1021.3,977.8C1020.7,979.3 1019.3,980.0 1017.0,981.5C1014.7,983.0 1010.7,984.6 1007.6,986.5C1004.5,988.4 1001.1,991.2 998.3,992.7C995.5,994.2 993.2,995.2 990.9,995.5C988.6,995.8 986.2,995.3 984.7,994.5C983.2,993.7 982.2,992.6 981.6,990.8C981.0,988.9 981.3,985.6 980.9,983.4C980.5,981.2 980.3,979.5 979.1,977.8C977.9,976.1 976.5,975.3 973.5,973.4C970.5,971.5 964.5,968.6 961.1,966.6C957.7,964.6 954.7,963.1 953.0,961.6C951.3,960.1 951.1,959.0 950.8,957.9C950.5,956.8 950.4,956.6 951.1,954.8ZM1923.2,1362.2C1924.3,1360.0 1926.6,1357.9 1928.4,1357.8C1930.2,1357.7 1932.8,1358.7 1934.1,1361.4C1935.4,1364.1 1935.9,1370.1 1936.2,1373.9C1936.5,1377.7 1936.8,1381.8 1935.7,1384.2C1934.6,1386.6 1931.6,1388.3 1929.7,1388.1C1927.8,1387.9 1925.8,1385.8 1924.5,1383.0C1923.2,1380.2 1922.2,1374.8 1922.0,1371.3C1921.8,1367.8 1922.1,1364.5 1923.2,1362.2ZM116.5,362.0C117.2,360.2 118.6,358.9 121.0,358.0C123.4,357.1 127.7,356.5 131.0,356.4C134.3,356.3 138.4,356.6 141.0,357.5C143.6,358.4 145.4,360.2 146.5,362.0C147.6,363.8 147.8,366.2 147.4,368.0C147.0,369.8 146.6,371.4 144.0,372.5C141.4,373.6 135.8,374.3 132.0,374.5C128.2,374.7 123.6,374.4 121.0,373.5C118.4,372.6 117.2,370.9 116.5,369.0C115.8,367.1 115.8,363.8 116.5,362.0ZM790.0,373.0C790.5,372.3 792.0,372.0 793.0,372.0C794.0,372.0 795.5,372.3 796.0,373.0C796.5,373.7 796.5,375.3 796.0,376.0C795.5,376.7 794.0,377.0 793.0,377.0C792.0,377.0 790.5,376.7 790.0,376.0C789.5,375.3 789.5,373.7 790.0,373.0Z"/>
</defs>
<rect width="2048" height="2048" fill="#fff"/>
<text x="92.0" y="152.8" font-size="66" font-weight="bold" fill="#000" textLength="230.0" lengthAdjust="spacingAndGlyphs">SOUTH</text>
<text x="341.0" y="152.8" font-size="66" font-weight="bold" fill="#000" textLength="303.0" lengthAdjust="spacingAndGlyphs">GEORGIA</text>
<text x="665.0" y="152.8" font-size="66" font-weight="bold" fill="#000" textLength="154.0" lengthAdjust="spacingAndGlyphs">AND</text>
<text x="837.0" y="152.8" font-size="66" font-weight="bold" fill="#000" textLength="124.0" lengthAdjust="spacingAndGlyphs">THE</text>
<text x="984.0" y="152.8" font-size="66" font-weight="bold" fill="#000" textLength="230.0" lengthAdjust="spacingAndGlyphs">SOUTH</text>
<text x="1233.0" y="152.8" font-size="66" font-weight="bold" fill="#000" textLength="383.0" lengthAdjust="spacingAndGlyphs">SANDWICH</text>
<text x="1632.0" y="152.8" font-size="66" font-weight="bold" fill="#000" textLength="287.0" lengthAdjust="spacingAndGlyphs">ISLANDS</text>
<text x="92.0" y="215.7" font-size="50" fill="#858585" textLength="255.0" lengthAdjust="spacingAndGlyphs">Emergency</text>
<text x="365.0" y="215.7" font-size="50" fill="#858585" textLength="83.0" lengthAdjust="spacingAndGlyphs">and</text>
<text x="462.0" y="215.7" font-size="50" fill="#e3121b" textLength="210.0" lengthAdjust="spacingAndGlyphs">Epidemic</text>
<text x="687.0" y="215.7" font-size="50" fill="#858585" textLength="259.0" lengthAdjust="spacingAndGlyphs">Infographic</text>
<g fill="#666666"><use href="#land" y="1"/><use href="#land" y="2"/><use href="#land" y="3"/><use href="#land" y="4"/><use href="#land" y="5"/><use href="#land" y="6"/><use href="#land" y="7"/><use href="#land" y="8"/><use href="#land" y="9"/><use href="#land" y="10"/><use href="#land" y="11"/><use href="#land" y="12"/><use href="#land" y="13"/><use href="#land" y="14"/></g>
<use href="#land" fill="#b0b0b0"/>
<ellipse cx="601.3" cy="394.0" rx="26.0" ry="20.2" fill="rgba(226,28,38,0.2)"/><ellipse cx="601.3" cy="394.0" rx="15.5" ry="11.8" fill="rgba(226,28,38,0.2)"/>
<ellipse cx="671.1" cy="417.3" rx="34.2" ry="26.3" fill="rgba(226,28,38,0.2)"/><ellipse cx="671.1" cy="417.3" rx="19.9" ry="15.0" fill="rgba(226,28,38,0.2)"/>

<ellipse cx="717.2" cy="504.0" rx="11.9" ry="9.0" fill="rgba(226,28,38,0.2)"/>
<ellipse cx="601.3" cy="553.1" rx="26.0" ry="20.5" fill="rgba(226,28,38,0.2)"/><ellipse cx="601.3" cy="553.1" rx="15.5" ry="11.7" fill="rgba(226,28,38,0.2)"/>
<ellipse cx="881.5" cy="482.0" rx="43.6" ry="34.0" fill="rgba(226,28,38,0.2)"/><ellipse cx="881.5" cy="482.0" rx="25.6" ry="19.7" fill="rgba(226,28,38,0.2)"/>
<ellipse cx="1010.3" cy="467.6" rx="43.2" ry="34.0" fill="rgba(226,28,38,0.2)"/><ellipse cx="1010.3" cy="467.6" rx="25.7" ry="19.5" fill="rgba(226,28,38,0.2)"/>
<ellipse cx="934.7" cy="531.1" rx="26.1" ry="20.5" fill="rgba(226,28,38,0.2)"/><ellipse cx="934.7" cy="531.1" rx="15.5" ry="12.0" fill="rgba(226,28,38,0.2)"/>

<ellipse cx="1069.7" cy="551.8" rx="62.5" ry="48.4" fill="rgba(226,28,38,0.2)"/><ellipse cx="1069.7" cy="551.8" rx="36.7" ry="28.2" fill="rgba(226,28,38,0.2)"/>

<ellipse cx="989.5" cy="671.2" rx="43.5" ry="33.6" fill="rgba(226,28,38,0.2)"/><ellipse cx="989.5" cy="671.2" rx="25.9" ry="19.7" fill="rgba(226,28,38,0.2)"/>


<ellipse cx="1056.7" cy="776.2" rx="11.9" ry="8.8" fill="rgba(226,28,38,0.2)"/>
<ellipse cx="1168.6" cy="750.5" rx="56.7" ry="44.3" fill="rgba(226,28,38,0.2)"/><ellipse cx="1168.6" cy="750.5" rx="33.4" ry="25.7" fill="rgba(226,28,38,0.2)"/>
<ellipse cx="1208.9" cy="860.4" rx="26.1" ry="20.4" fill="rgba(226,28,38,0.2)"/><ellipse cx="1208.9" cy="860.4" rx="15.5" ry="11.6" fill="rgba(226,28,38,0.2)"/>

<ellipse cx="1404.5" cy="800.0" rx="118.0" ry="92.0" fill="rgba(226,28,38,0.2)"/><ellipse cx="1404.5" cy="800.0" rx="85.7" ry="66.8" fill="rgba(226,28,38,0.2)"/><ellipse cx="1404.5" cy="800.0" rx="50.7" ry="38.8" fill="rgba(226,28,38,0.2)"/>
<ellipse cx="1547.0" cy="870.0" rx="11.9" ry="9.0" fill="rgba(226,28,38,0.2)"/>
<ellipse cx="1638.4" cy="952.1" rx="39.0" ry="30.1" fill="rgba(226,28,38,0.2)"/><ellipse cx="1638.4" cy="952.1" rx="23.0" ry="17.4" fill="rgba(226,28,38,0.2)"/>
<ellipse cx="1585.3" cy="1124.1" rx="43.7" ry="34.0" fill="rgba(226,28,38,0.2)"/><ellipse cx="1585.3" cy="1124.1" rx="25.9" ry="19.7" fill="rgba(226,28,38,0.2)"/>
<ellipse cx="1777.9" cy="1135.7" rx="38.8" ry="30.4" fill="rgba(226,28,38,0.2)"/><ellipse cx="1777.9" cy="1135.7" rx="23.3" ry="17.4" fill="rgba(226,28,38,0.2)"/>
<ellipse cx="1573.5" cy="1208.6" rx="25.9" ry="20.2" fill="rgba(226,28,38,0.2)"/><ellipse cx="1573.5" cy="1208.6" rx="15.1" ry="11.4" fill="rgba(226,28,38,0.2)"/>
<ellipse cx="1630.0" cy="1277.1" rx="25.9" ry="20.4" fill="rgba(226,28,38,0.2)"/><ellipse cx="1630.0" cy="1277.1" rx="15.3" ry="11.6" fill="rgba(226,28,38,0.2)"/>
<ellipse cx="1661.0" cy="1343.0" rx="43.6" ry="33.6" fill="rgba(226,28,38,0.2)"/><ellipse cx="1661.0" cy="1343.0" rx="26.0" ry="19.7" fill="rgba(226,28,38,0.2)"/>
<path d="M595.6,394.0 L601.3,362.5 L607.0,394.0 A5.7,4.3 0 0 1 595.6,394.0 Z" fill="url(#cg)"/>
<path d="M663.6,417.3 L671.1,310.7 L678.6,417.3 A7.5,5.7 0 0 1 663.6,417.3 Z" fill="url(#cg)"/>
<path d="M772.9,472.8 L778.8,455.6 L784.7,472.8 A5.9,4.5 0 0 1 772.9,472.8 Z" fill="url(#cg)"/>
<path d="M711.5,504.0 L717.2,484.6 L722.9,504.0 A5.7,4.3 0 0 1 711.5,504.0 Z" fill="url(#cg)"/>
<path d="M595.6,553.1 L601.3,521.9 L607.0,553.1 A5.7,4.3 0 0 1 595.6,553.1 Z" fill="url(#cg)"/>
<path d="M871.8,482.0 L881.5,344.9 L891.2,482.0 A9.7,7.4 0 0 1 871.8,482.0 Z" fill="url(#cg)"/>
<path d="M1000.8,467.6 L1010.3,330.4 L1019.8,467.6 A9.5,7.2 0 0 1 1000.8,467.6 Z" fill="url(#cg)"/>
<path d="M929.1,531.1 L934.7,499.5 L940.3,531.1 A5.6,4.3 0 0 1 929.1,531.1 Z" fill="url(#cg)"/>
<path d="M971.1,537.3 L976.5,520.8 L981.9,537.3 A5.4,4.1 0 0 1 971.1,537.3 Z" fill="url(#cg)"/>
<path d="M1056.0,551.8 L1069.7,402.0 L1083.4,551.8 A13.7,10.4 0 0 1 1056.0,551.8 Z" fill="url(#cg)"/>
<path d="M809.4,603.0 L814.6,586.3 L819.8,603.0 A5.2,4.0 0 0 1 809.4,603.0 Z" fill="url(#cg)"/>
<path d="M980.2,671.2 L989.5,534.5 L998.8,671.2 A9.3,7.1 0 0 1 980.2,671.2 Z" fill="url(#cg)"/>
<path d="M911.5,662.0 L916.7,644.0 L921.9,662.0 A5.2,4.0 0 0 1 911.5,662.0 Z" fill="url(#cg)"/>
<path d="M1004.8,716.6 L1010.2,700.0 L1015.6,716.6 A5.4,4.1 0 0 1 1004.8,716.6 Z" fill="url(#cg)"/>
<path d="M1051.3,776.2 L1056.7,756.0 L1062.1,776.2 A5.4,4.1 0 0 1 1051.3,776.2 Z" fill="url(#cg)"/>
<path d="M1156.2,750.5 L1168.6,538.5 L1181.0,750.5 A12.4,9.4 0 0 1 1156.2,750.5 Z" fill="url(#cg)"/>
<path d="M1203.5,860.4 L1208.9,828.7 L1214.3,860.4 A5.4,4.1 0 0 1 1203.5,860.4 Z" fill="url(#cg)"/>
<path d="M1310.0,904.8 L1315.4,887.7 L1320.8,904.8 A5.4,4.1 0 0 1 1310.0,904.8 Z" fill="url(#cg)"/>
<path d="M1384.0,800.0 L1404.5,408.0 L1425.0,800.0 A20.5,15.6 0 0 1 1384.0,800.0 Z" fill="url(#cg)"/>
<path d="M1541.6,870.0 L1547.0,850.3 L1552.4,870.0 A5.4,4.1 0 0 1 1541.6,870.0 Z" fill="url(#cg)"/>
<path d="M1629.9,952.1 L1638.4,830.5 L1646.9,952.1 A8.5,6.5 0 0 1 1629.9,952.1 Z" fill="url(#cg)"/>
<path d="M1576.0,1124.1 L1585.3,1019.7 L1594.6,1124.1 A9.3,7.1 0 0 1 1576.0,1124.1 Z" fill="url(#cg)"/>
<path d="M1769.4,1135.7 L1777.9,1014.5 L1786.4,1135.7 A8.5,6.5 0 0 1 1769.4,1135.7 Z" fill="url(#cg)"/>
<path d="M1567.9,1208.6 L1573.5,1177.0 L1579.1,1208.6 A5.6,4.3 0 0 1 1567.9,1208.6 Z" fill="url(#cg)"/>
<path d="M1624.4,1277.1 L1630.0,1245.3 L1635.6,1277.1 A5.6,4.3 0 0 1 1624.4,1277.1 Z" fill="url(#cg)"/>
<path d="M1651.2,1343.0 L1661.0,1206.3 L1670.8,1343.0 A9.8,7.5 0 0 1 1651.2,1343.0 Z" fill="url(#cg)"/>
<path d="M1200.7,1987.6 H1173.6 V1547.2 H1567 V1987.6 H1539.2" fill="none" stroke="#f4a5ab" stroke-width="2"/><ellipse cx="1255.3" cy="1693.3" rx="44.0" ry="34.0" fill="rgba(226,28,38,0.2)"/><ellipse cx="1255.3" cy="1693.3" rx="25.7" ry="19.6" fill="rgba(226,28,38,0.2)"/><ellipse cx="1255.3" cy="1781.4" rx="25.7" ry="20.2" fill="rgba(226,28,38,0.2)"/><ellipse cx="1255.3" cy="1781.4" rx="15.4" ry="11.4" fill="rgba(226,28,38,0.2)"/><ellipse cx="1255.3" cy="1843.7" rx="12.0" ry="8.8" fill="rgba(226,28,38,0.2)"/><ellipse cx="1399.3" cy="1852.3" rx="105.3" ry="82.5" fill="rgba(226,28,38,0.2)"/><ellipse cx="1399.3" cy="1852.3" rx="76.6" ry="59.7" fill="rgba(226,28,38,0.2)"/><ellipse cx="1399.3" cy="1852.3" rx="45.2" ry="34.6" fill="rgba(226,28,38,0.2)"/><path d="M1245.8,1693.3 L1255.3,1594.4 L1264.8,1693.3 A9.5,7.0 0 0 1 1245.8,1693.3 Z" fill="url(#cg)"/><path d="M1249.7,1781.4 L1255.3,1750.0 L1260.9,1781.4 A5.6,4.1 0 0 1 1249.7,1781.4 Z" fill="url(#cg)"/><path d="M1249.7,1843.7 L1255.3,1825.0 L1260.9,1843.7 A5.6,4.1 0 0 1 1249.7,1843.7 Z" fill="url(#cg)"/><path d="M1249.7,1890.3 L1255.3,1871.9 L1260.9,1890.3 A5.6,4.1 0 0 1 1249.7,1890.3 Z" fill="url(#cg)"/><path d="M1250.1,1931.1 L1255.3,1914.8 L1260.5,1931.1 A5.2,3.8 0 0 1 1250.1,1931.1 Z" fill="url(#cg)"/><path d="M1381.3,1852.3 L1399.3,1594.4 L1417.3,1852.3 A18.0,13.3 0 0 1 1381.3,1852.3 Z" fill="url(#cg)"/><path d="M1636.1,1987.6 H1608.4 V1547.4 H2002.4 V1987.6 H1974.5" fill="none" stroke="#a3dcbf" stroke-width="2"/><ellipse cx="1870.6" cy="1852" rx="105.5" ry="82.5" fill="#fcc5c6"/><ellipse cx="1870.6" cy="1852.5" rx="74.7" ry="58.3" fill="#b1bb8d"/><ellipse cx="1870.5" cy="1853" rx="41.8" ry="31.6" fill="#998a8e"/><path d="M1852.5,1852.5 L1870.5,1594.4 L1888.5,1852.5 A18.0,13.3 0 0 1 1852.5,1852.5 Z" fill="url(#gg)"/><g fill="none" stroke-width="2.6" stroke-linecap="round"><g stroke="#e3121b"><circle cx="1672.3" cy="1609.4" r="34.2"/><path d="M1654,1601 q5,6 10,0 M1682,1601 q5,6 10,0 M1655,1621 q18,-12 36,0"/></g><g stroke="#0a9a2a"><circle cx="1765.6" cy="1609.4" r="34.2"/><path d="M1747,1605 q5,-7 10,0 M1774,1605 q5,-7 10,0 M1748,1615 q18,12 36,0"/></g><g stroke="#8a55cc"><circle cx="1672.3" cy="1837.6" r="34.2"/><path d="M1654,1827 l9,9 M1663,1827 l-9,9 M1678,1827 l9,9 M1687,1827 l-9,9 M1655,1849 h35"/></g></g><circle cx="1632.9" cy="1682.9" r="7.8" fill="#ec1c24"/><circle cx="1632.9" cy="1723.6" r="7.8" fill="#0a9a14"/><circle cx="1632.9" cy="1764" r="7.8" fill="#9966cc"/><path d="M1800,1682.9 H1815.3 L1839.4,1772.7" fill="none" stroke="#e3121b" stroke-width="1.4"/><path d="M1801.3,1726.6 H1804.5 L1832.7,1800.9" fill="none" stroke="#0a9a14" stroke-width="1.4"/><path d="M1738.8,1766.5 H1800.5 L1832.7,1837" fill="none" stroke="#8a55cc" stroke-width="1.4"/><path d="M87.2,1346 V1511.3 H479" fill="none" stroke="#b5b5b5" stroke-width="1.6"/><path d="M87.2,1346.0 h7" stroke="#b5b5b5" stroke-width="1.6"/><path d="M87.2,1379.6 h7" stroke="#b5b5b5" stroke-width="1.6"/><path d="M87.2,1412.4 h7" stroke="#b5b5b5" stroke-width="1.6"/><path d="M87.2,1445.5 h7" stroke="#b5b5b5" stroke-width="1.6"/><path d="M87.2,1478.3 h7" stroke="#b5b5b5" stroke-width="1.6"/><path d="M166.0,1511.3 v5" stroke="#b5b5b5" stroke-width="1.6"/><path d="M244.0,1511.3 v5" stroke="#b5b5b5" stroke-width="1.6"/><path d="M322.0,1511.3 v5" stroke="#b5b5b5" stroke-width="1.6"/><path d="M400.5,1511.3 v5" stroke="#b5b5b5" stroke-width="1.6"/><path d="M479.0,1511.3 v5" stroke="#b5b5b5" stroke-width="1.6"/><text x="79" y="1350.3" font-size="11.5" fill="#555" text-anchor="end">10</text><text x="79" y="1383.9" font-size="11.5" fill="#555" text-anchor="end">8</text><text x="79" y="1416.7" font-size="11.5" fill="#555" text-anchor="end">6</text><text x="79" y="1449.8" font-size="11.5" fill="#555" text-anchor="end">4</text><text x="79" y="1482.6" font-size="11.5" fill="#555" text-anchor="end">2</text><text x="79" y="1515.6" font-size="11.5" fill="#555" text-anchor="end">0</text><path d="M87.2,1511.3 C93.8,1509.4 114.1,1505.1 127.0,1500.1 C139.8,1495.2 153.9,1487.7 164.2,1481.5 C174.6,1475.3 180.8,1469.1 189.1,1462.9 C197.3,1456.6 203.6,1452.7 213.9,1444.2 C224.3,1435.7 238.8,1421.9 251.2,1411.9 C263.6,1402.0 274.0,1392.5 288.4,1384.6 C302.9,1376.7 317.4,1370.2 338.1,1364.7 C358.8,1359.3 390.1,1353.3 412.7,1351.8 C435.2,1350.4 463.4,1355.3 473.5,1356.0" fill="none" stroke="#ec1c24" stroke-width="1.8"/><path d="M87.2,1511.3 C100.0,1509.9 139.0,1505.9 164.2,1502.6 C189.5,1499.3 218.1,1496.6 238.8,1491.4 C259.5,1486.3 274.0,1478.6 288.4,1471.6 C302.9,1464.5 313.3,1457.5 325.7,1449.2 C338.1,1440.9 348.5,1429.9 363.0,1421.9 C377.5,1413.8 394.2,1406.8 412.7,1400.7 C431.1,1394.7 463.4,1387.9 473.5,1385.3" fill="none" stroke="#0a9a14" stroke-width="1.8"/><path d="M87.2,1511.3 C100.0,1510.9 139.0,1510.1 164.2,1508.8 C189.5,1507.6 213.9,1506.5 238.8,1503.9 C263.6,1501.2 288.4,1497.2 313.3,1492.7 C338.1,1488.1 361.1,1481.4 387.8,1476.5 C414.5,1471.6 459.3,1465.3 473.5,1463.1" fill="none" stroke="#8a55cc" stroke-width="1.8"/><circle cx="473.5" cy="1356" r="7.5" fill="#ec1c24"/><circle cx="473.5" cy="1385.3" r="7.5" fill="#0a9a14"/><circle cx="473.5" cy="1463.1" r="7.5" fill="#9966cc"/><path d="M2048,474.5 H1826 C1790,474.5 1760,480 1730,505 C1715,518 1700,532 1681,551" fill="none" stroke="#e41c24" stroke-width="4.6"/><path d="M1679,505.5 L1680.5,552 L1727.6,554" fill="none" stroke="#e41c24" stroke-width="4.6"/><circle cx="1931.9" cy="474.5" r="32" fill="rgba(228,28,36,0.2)"/><circle cx="1931.9" cy="474.5" r="16.2" fill="#e41c24" stroke="#fdf2f2" stroke-width="1.2"/><circle cx="112.80" cy="1665.90" r="36.60" fill="none" stroke="#111" stroke-width="2.4"/><path d="M76.9,1625.9 L153.3,1702.1" stroke="#fff" stroke-width="3.8"/><path d="M74.9,1628.0 L151.3,1704.2" stroke="#e3121b" stroke-width="2.7"/><path d="M233.55,1643.26 C236.51,1642.04 238.50,1638.70 238.50,1635.20 C238.50,1632.20 236.00,1629.20 236.00,1626.00 C236.00,1623.02 238.42,1620.60 241.40,1620.60 C244.38,1620.60 246.80,1623.02 246.80,1626.00 C246.80,1629.20 244.30,1632.20 244.30,1635.20 C244.30,1638.70 246.29,1642.04 249.25,1643.26 C252.20,1644.49 255.97,1643.53 258.44,1641.06 C260.56,1638.94 260.92,1635.05 263.18,1632.78 C265.29,1630.68 268.71,1630.68 270.82,1632.78 C272.92,1634.89 272.92,1638.31 270.82,1640.42 C268.55,1642.68 264.66,1643.04 262.54,1645.16 C260.07,1647.63 259.11,1651.40 260.34,1654.35 C261.56,1657.31 264.90,1659.30 268.40,1659.30 C271.40,1659.30 274.40,1656.80 277.60,1656.80 C280.58,1656.80 283.00,1659.22 283.00,1662.20 C283.00,1665.18 280.58,1667.60 277.60,1667.60 C274.40,1667.60 271.40,1665.10 268.40,1665.10 C264.90,1665.10 261.56,1667.09 260.34,1670.05 C259.11,1673.00 260.07,1676.77 262.54,1679.24 C264.66,1681.36 268.55,1681.72 270.82,1683.98 C272.92,1686.09 272.92,1689.51 270.82,1691.62 C268.71,1693.72 265.29,1693.72 263.18,1691.62 C260.92,1689.35 260.56,1685.46 258.44,1683.34 C255.97,1680.87 252.20,1679.91 249.25,1681.14 C246.29,1682.36 244.30,1685.70 244.30,1689.20 C244.30,1692.20 246.80,1695.20 246.80,1698.40 C246.80,1701.38 244.38,1703.80 241.40,1703.80 C238.42,1703.80 236.00,1701.38 236.00,1698.40 C236.00,1695.20 238.50,1692.20 238.50,1689.20 C238.50,1685.70 236.51,1682.36 233.55,1681.14 C230.60,1679.91 226.83,1680.87 224.36,1683.34 C222.24,1685.46 221.88,1689.35 219.62,1691.62 C217.51,1693.72 214.09,1693.72 211.98,1691.62 C209.88,1689.51 209.88,1686.09 211.98,1683.98 C214.25,1681.72 218.14,1681.36 220.26,1679.24 C222.73,1676.77 223.69,1673.00 222.46,1670.05 C221.24,1667.09 217.90,1665.10 214.40,1665.10 C211.40,1665.10 208.40,1667.60 205.20,1667.60 C202.22,1667.60 199.80,1665.18 199.80,1662.20 C199.80,1659.22 202.22,1656.80 205.20,1656.80 C208.40,1656.80 211.40,1659.30 214.40,1659.30 C217.90,1659.30 221.24,1657.31 222.46,1654.35 C223.69,1651.40 222.73,1647.63 220.26,1645.16 C218.14,1643.04 214.25,1642.68 211.98,1640.42 C209.88,1638.31 209.88,1634.89 211.98,1632.78 C214.09,1630.68 217.51,1630.68 219.62,1632.78 C221.88,1635.05 222.24,1638.94 224.36,1641.06 C226.83,1643.53 230.60,1644.49 233.55,1643.26Z" fill="none" stroke="#111" stroke-width="2.5" stroke-linecap="round" stroke-linejoin="round"/><circle cx="231.20" cy="1659.70" r="3.50" fill="none" stroke="#111" stroke-width="2.5"/><circle cx="241.40" cy="1672.10" r="3.50" fill="none" stroke="#111" stroke-width="2.5"/><path d="M243.00,1653.92 a4.60,4.60 0 1 1 5.52,7.13" fill="none" stroke="#111" stroke-width="2.5" stroke-linecap="round" stroke-linejoin="round"/><path d="M203.6,1620.0 L279.3,1696.0" stroke="#fff" stroke-width="3.8"/><path d="M201.5,1622.0 L277.2,1698.0" stroke="#e3121b" stroke-width="2.7"/><circle cx="376.50" cy="1661.90" r="29.80" fill="none" stroke="#111" stroke-width="2.5"/><path d="M376.50,1632.10 L376.50,1619.30 M370.60,1619.30 L382.40,1619.30" stroke="#111" stroke-width="2.5" stroke-linecap="round"/><path d="M387.90,1634.37 L390.47,1628.18 M386.59,1626.57 L394.35,1629.79" stroke="#111" stroke-width="2.5" stroke-linecap="round"/><path d="M397.57,1640.83 L406.62,1631.78 M402.45,1627.61 L410.79,1635.95" stroke="#111" stroke-width="2.5" stroke-linecap="round"/><path d="M404.03,1650.50 L410.22,1647.93 M408.61,1644.05 L411.83,1651.81" stroke="#111" stroke-width="2.5" stroke-linecap="round"/><path d="M406.30,1661.90 L419.10,1661.90 M419.10,1656.00 L419.10,1667.80" stroke="#111" stroke-width="2.5" stroke-linecap="round"/><path d="M404.03,1673.30 L410.22,1675.87 M411.83,1671.99 L408.61,1679.75" stroke="#111" stroke-width="2.5" stroke-linecap="round"/><path d="M397.57,1682.97 L406.62,1692.02 M410.79,1687.85 L402.45,1696.19" stroke="#111" stroke-width="2.5" stroke-linecap="round"/><path d="M387.90,1689.43 L390.47,1695.62 M394.35,1694.01 L386.59,1697.23" stroke="#111" stroke-width="2.5" stroke-linecap="round"/><path d="M376.50,1691.70 L376.50,1704.50 M382.40,1704.50 L370.60,1704.50" stroke="#111" stroke-width="2.5" stroke-linecap="round"/><path d="M365.10,1689.43 L362.53,1695.62 M366.41,1697.23 L358.65,1694.01" stroke="#111" stroke-width="2.5" stroke-linecap="round"/><path d="M355.43,1682.97 L346.38,1692.02 M350.55,1696.19 L342.21,1687.85" stroke="#111" stroke-width="2.5" stroke-linecap="round"/><path d="M348.97,1673.30 L342.78,1675.87 M344.39,1679.75 L341.17,1671.99" stroke="#111" stroke-width="2.5" stroke-linecap="round"/><path d="M346.70,1661.90 L333.90,1661.90 M333.90,1667.80 L333.90,1656.00" stroke="#111" stroke-width="2.5" stroke-linecap="round"/><path d="M348.97,1650.50 L342.78,1647.93 M341.17,1651.81 L344.39,1644.05" stroke="#111" stroke-width="2.5" stroke-linecap="round"/><path d="M355.43,1640.83 L346.38,1631.78 M342.21,1635.95 L350.55,1627.61" stroke="#111" stroke-width="2.5" stroke-linecap="round"/><path d="M365.10,1634.37 L362.53,1628.18 M358.65,1629.79 L366.41,1626.57" stroke="#111" stroke-width="2.5" stroke-linecap="round"/><circle cx="376.50" cy="1661.90" r="4.29" fill="none" stroke="#111" stroke-width="2.5"/><circle cx="376.50" cy="1643.96" r="4.29" fill="none" stroke="#111" stroke-width="2.5"/><circle cx="376.50" cy="1679.84" r="4.29" fill="none" stroke="#111" stroke-width="2.5"/><circle cx="358.56" cy="1661.90" r="4.29" fill="none" stroke="#111" stroke-width="2.5"/><circle cx="394.44" cy="1661.90" r="4.29" fill="none" stroke="#111" stroke-width="2.5"/><circle cx="362.55" cy="1647.95" r="2.09" fill="none" stroke="#111" stroke-width="2.5"/><circle cx="362.55" cy="1675.85" r="2.09" fill="none" stroke="#111" stroke-width="2.5"/><circle cx="390.45" cy="1647.95" r="2.09" fill="none" stroke="#111" stroke-width="2.5"/><circle cx="390.45" cy="1675.85" r="2.09" fill="none" stroke="#111" stroke-width="2.5"/><path d="M340.4,1622.0 L416.6,1698.4" stroke="#fff" stroke-width="3.8"/><path d="M338.3,1624.0 L414.5,1700.4" stroke="#e3121b" stroke-width="2.7"/><circle cx="510.30" cy="1628.00" r="8.80" fill="none" stroke="#111" stroke-width="2.6"/><path d="M500.7,1643.5 Q513.8,1638.5 531.2,1649.8 L536.8,1670.2 L530,1670.9 L525,1662.2 L523.7,1657.2 L517.5,1655.3 L517.5,1661" fill="none" stroke="#111" stroke-width="2.6" stroke-linecap="round" stroke-linejoin="round"/><path d="M495.8,1649.8 L491.4,1656 L479.6,1659.7 Q480.2,1666.5 489,1665.9 L497.6,1662.2 L501.4,1656 L503.2,1669 L492,1679.6 L489.6,1703.2" fill="none" stroke="#111" stroke-width="2.6" stroke-linecap="round" stroke-linejoin="round"/><path d="M498.3,1703.2 L502,1683.3 L508.8,1677.1 L511.3,1689.5 L520,1703.8" fill="none" stroke="#111" stroke-width="2.6" stroke-linecap="round" stroke-linejoin="round"/><path d="M529.9,1703.8 L520.6,1684.5 L518.8,1670.9" fill="none" stroke="#111" stroke-width="2.6" stroke-linecap="round" stroke-linejoin="round"/><path d="M474.6,1622.0 L550.6,1698.2" stroke="#fff" stroke-width="3.8"/><path d="M472.5,1624.0 L548.5,1700.2" stroke="#e3121b" stroke-width="2.7"/><circle cx="627.00" cy="1643.60" r="10.60" fill="none" stroke="#111" stroke-width="2.6"/><circle cx="649.20" cy="1665.90" r="10.60" fill="none" stroke="#111" stroke-width="2.6"/><circle cx="671.40" cy="1643.60" r="10.40" fill="none" stroke="#111" stroke-width="2.6"/><path d="M685.40,1643.60 L690.90,1643.60 M681.30,1653.50 L683.77,1655.97 M671.40,1657.60 L671.40,1663.10 M661.50,1653.50 L659.03,1655.97 M657.40,1643.60 L651.90,1643.60 M661.50,1633.70 L659.03,1631.23 M671.40,1629.60 L671.40,1624.10 M681.30,1633.70 L683.77,1631.23 " stroke="#111" stroke-width="2.6" stroke-linecap="butt"/><circle cx="671.40" cy="1643.60" r="1.10" fill="#111" stroke="#111" stroke-width="0"/><circle cx="655.30" cy="1627.50" r="1.10" fill="#111" stroke="#111" stroke-width="0"/><circle cx="687.60" cy="1627.50" r="1.10" fill="#111" stroke="#111" stroke-width="0"/><path d="M606.8,1679.3 V1674 Q611,1664.5 633.1,1663.8" fill="none" stroke="#111" stroke-width="2.6" stroke-linecap="round" stroke-linejoin="round"/><path d="M666,1663.8 Q688,1664.5 691.6,1674 V1679.3" fill="none" stroke="#111" stroke-width="2.6" stroke-linecap="round" stroke-linejoin="round"/><path d="M629,1701.5 V1695 Q631,1686 649.2,1685.4 Q667.5,1686 669.4,1695 V1701.5" fill="none" stroke="#111" stroke-width="2.6" stroke-linecap="round" stroke-linejoin="round"/><path d="M613.6,1626.2 L689.0,1702.2" stroke="#fff" stroke-width="3.8"/><path d="M611.5,1628.2 L686.9,1704.2" stroke="#e3121b" stroke-width="2.7"/><path d="M754.9,1667.9 Q760.9,1662 769,1667.9 L777.1,1674.6 L777.1,1663.8 L774.4,1651.7 L770.3,1637.6 Q772,1631 778.4,1634.9 L783.8,1651 M787.8,1655.1 L787.8,1627.5 Q792.6,1621 797.3,1627.5 L797.9,1663.2 M801.6,1660 L806,1636.9 Q810,1629 813.4,1636.9 L808,1665.2 M812,1665 L822.8,1643 Q828,1640 826.9,1649 L818.8,1667.9 L817.5,1683.4 M754.9,1667.9 L775.7,1690.8 Q783.8,1700 794.6,1702.9 Q808,1703.5 814.8,1693.4 M777.7,1676 Q789.2,1673.3 797.3,1683.4" fill="none" stroke="#111" stroke-width="2.6" stroke-linecap="round" stroke-linejoin="round"/><path d="M753.5,1626.1 L829.6,1702.1" stroke="#fff" stroke-width="3.8"/><path d="M751.5,1628.2 L827.6,1704.2" stroke="#e3121b" stroke-width="2.7"/><path d="M886.8,1665.9 Q929.2,1614 972.3,1665.9 Q929.2,1718 886.8,1665.9 Z" fill="none" stroke="#111" stroke-width="2.6" stroke-linecap="round" stroke-linejoin="round"/><circle cx="929.20" cy="1665.90" r="18.40" fill="none" stroke="#111" stroke-width="2.6"/><path d="M893.6,1626.2 L969.0,1702.2" stroke="#fff" stroke-width="3.8"/><path d="M891.5,1628.2 L966.9,1704.2" stroke="#e3121b" stroke-width="2.7"/><path d="M1049,1660.1 L1102.8,1660.1 Q1113.6,1661 1113.6,1668.5 Q1110,1672.2 1102.8,1672.2 L1038.2,1672.2 L1035.8,1647.7 L1042.9,1647.7 Z M1062.5,1649.7 L1056.4,1635.8 L1064.5,1635.8 L1081.3,1654.4 M1068.5,1672.2 L1055.7,1696.1 L1064.5,1696.1 L1082,1676.6" fill="none" stroke="#111" stroke-width="2.5" stroke-linecap="round" stroke-linejoin="round"/><path d="M1037.0,1626.2 L1112.3,1702.2" stroke="#fff" stroke-width="3.8"/><path d="M1034.9,1628.2 L1110.2,1704.2" stroke="#e3121b" stroke-width="2.7"/><path d="M69.5,1819.9 Q66,1790 95,1779.6 Q91,1790 99.1,1793 Q104,1792 105.8,1784.3 Q112,1786.5 117.9,1783.6 Q119,1793 124,1793 Q131,1792 129.4,1779.6 Q152,1788 153.6,1810.5" fill="none" stroke="#111" stroke-width="2.6" stroke-linecap="round" stroke-linejoin="round"/><path d="M69.5,1819.9 Q77,1812 82.9,1813.2 Q88,1815 91.7,1821.3 Q97,1818 100.4,1820.6 Q108,1826 111.9,1840.1" fill="none" stroke="#111" stroke-width="2.6" stroke-linecap="round" stroke-linejoin="round"/><circle cx="135.80" cy="1828.70" r="12.40" fill="none" stroke="#111" stroke-width="2.6"/><path d="M150.30,1828.70 L155.80,1828.70 M146.05,1838.95 L149.94,1842.84 M135.80,1843.20 L135.80,1848.70 M125.55,1838.95 L121.66,1842.84 M121.30,1828.70 L115.80,1828.70 M125.55,1818.45 L121.66,1814.56 M135.80,1814.20 L135.80,1808.70 M146.05,1818.45 L149.94,1814.56 " stroke="#111" stroke-width="2.6" stroke-linecap="butt"/><circle cx="137.49" cy="1824.75" r="1.24" fill="#111" stroke="#111" stroke-width="0"/><circle cx="131.85" cy="1829.04" r="1.24" fill="#111" stroke="#111" stroke-width="0"/><circle cx="137.49" cy="1833.21" r="1.24" fill="#111" stroke="#111" stroke-width="0"/><path d="M233.25,1787.96 C236.21,1786.74 238.20,1783.40 238.20,1779.90 C238.20,1776.90 235.70,1773.90 235.70,1770.70 C235.70,1767.72 238.12,1765.30 241.10,1765.30 C244.08,1765.30 246.50,1767.72 246.50,1770.70 C246.50,1773.90 244.00,1776.90 244.00,1779.90 C244.00,1783.40 245.99,1786.74 248.95,1787.96 C251.90,1789.19 255.67,1788.23 258.14,1785.76 C260.26,1783.64 260.62,1779.75 262.88,1777.48 C264.99,1775.38 268.41,1775.38 270.52,1777.48 C272.62,1779.59 272.62,1783.01 270.52,1785.12 C268.25,1787.38 264.36,1787.74 262.24,1789.86 C259.77,1792.33 258.81,1796.10 260.04,1799.05 C261.26,1802.01 264.60,1804.00 268.10,1804.00 C271.10,1804.00 274.10,1801.50 277.30,1801.50 C280.28,1801.50 282.70,1803.92 282.70,1806.90 C282.70,1809.88 280.28,1812.30 277.30,1812.30 C274.10,1812.30 271.10,1809.80 268.10,1809.80 C264.60,1809.80 261.26,1811.79 260.04,1814.75 C258.81,1817.70 259.77,1821.47 262.24,1823.94 C264.36,1826.06 268.25,1826.42 270.52,1828.68 C272.62,1830.79 272.62,1834.21 270.52,1836.32 C268.41,1838.42 264.99,1838.42 262.88,1836.32 C260.62,1834.05 260.26,1830.16 258.14,1828.04 C255.67,1825.57 251.90,1824.61 248.95,1825.84 C245.99,1827.06 244.00,1830.40 244.00,1833.90 C244.00,1836.90 246.50,1839.90 246.50,1843.10 C246.50,1846.08 244.08,1848.50 241.10,1848.50 C238.12,1848.50 235.70,1846.08 235.70,1843.10 C235.70,1839.90 238.20,1836.90 238.20,1833.90 C238.20,1830.40 236.21,1827.06 233.25,1825.84 C230.30,1824.61 226.53,1825.57 224.06,1828.04 C221.94,1830.16 221.58,1834.05 219.32,1836.32 C217.21,1838.42 213.79,1838.42 211.68,1836.32 C209.58,1834.21 209.58,1830.79 211.68,1828.68 C213.95,1826.42 217.84,1826.06 219.96,1823.94 C222.43,1821.47 223.39,1817.70 222.16,1814.75 C220.94,1811.79 217.60,1809.80 214.10,1809.80 C211.10,1809.80 208.10,1812.30 204.90,1812.30 C201.92,1812.30 199.50,1809.88 199.50,1806.90 C199.50,1803.92 201.92,1801.50 204.90,1801.50 C208.10,1801.50 211.10,1804.00 214.10,1804.00 C217.60,1804.00 220.94,1802.01 222.16,1799.05 C223.39,1796.10 222.43,1792.33 219.96,1789.86 C217.84,1787.74 213.95,1787.38 211.68,1785.12 C209.58,1783.01 209.58,1779.59 211.68,1777.48 C213.79,1775.38 217.21,1775.38 219.32,1777.48 C221.58,1779.75 221.94,1783.64 224.06,1785.76 C226.53,1788.23 230.30,1789.19 233.25,1787.96Z" fill="none" stroke="#111" stroke-width="2.5" stroke-linecap="round" stroke-linejoin="round"/><circle cx="243.10" cy="1796.40" r="3.60" fill="none" stroke="#111" stroke-width="2.5"/><circle cx="231.00" cy="1806.90" r="3.60" fill="none" stroke="#111" stroke-width="2.5"/><circle cx="247.10" cy="1812.50" r="5.30" fill="none" stroke="#111" stroke-width="2.5"/><circle cx="376.20" cy="1806.80" r="29.80" fill="none" stroke="#111" stroke-width="2.5"/><path d="M376.20,1777.00 L376.20,1764.20 M370.30,1764.20 L382.10,1764.20" stroke="#111" stroke-width="2.5" stroke-linecap="round"/><path d="M387.60,1779.27 L390.17,1773.08 M386.29,1771.47 L394.05,1774.69" stroke="#111" stroke-width="2.5" stroke-linecap="round"/><path d="M397.27,1785.73 L406.32,1776.68 M402.15,1772.51 L410.49,1780.85" stroke="#111" stroke-width="2.5" stroke-linecap="round"/><path d="M403.73,1795.40 L409.92,1792.83 M408.31,1788.95 L411.53,1796.71" stroke="#111" stroke-width="2.5" stroke-linecap="round"/><path d="M406.00,1806.80 L418.80,1806.80 M418.80,1800.90 L418.80,1812.70" stroke="#111" stroke-width="2.5" stroke-linecap="round"/><path d="M403.73,1818.20 L409.92,1820.77 M411.53,1816.89 L408.31,1824.65" stroke="#111" stroke-width="2.5" stroke-linecap="round"/><path d="M397.27,1827.87 L406.32,1836.92 M410.49,1832.75 L402.15,1841.09" stroke="#111" stroke-width="2.5" stroke-linecap="round"/><path d="M387.60,1834.33 L390.17,1840.52 M394.05,1838.91 L386.29,1842.13" stroke="#111" stroke-width="2.5" stroke-linecap="round"/><path d="M376.20,1836.60 L376.20,1849.40 M382.10,1849.40 L370.30,1849.40" stroke="#111" stroke-width="2.5" stroke-linecap="round"/><path d="M364.80,1834.33 L362.23,1840.52 M366.11,1842.13 L358.35,1838.91" stroke="#111" stroke-width="2.5" stroke-linecap="round"/><path d="M355.13,1827.87 L346.08,1836.92 M350.25,1841.09 L341.91,1832.75" stroke="#111" stroke-width="2.5" stroke-linecap="round"/><path d="M348.67,1818.20 L342.48,1820.77 M344.09,1824.65 L340.87,1816.89" stroke="#111" stroke-width="2.5" stroke-linecap="round"/><path d="M346.40,1806.80 L333.60,1806.80 M333.60,1812.70 L333.60,1800.90" stroke="#111" stroke-width="2.5" stroke-linecap="round"/><path d="M348.67,1795.40 L342.48,1792.83 M340.87,1796.71 L344.09,1788.95" stroke="#111" stroke-width="2.5" stroke-linecap="round"/><path d="M355.13,1785.73 L346.08,1776.68 M341.91,1780.85 L350.25,1772.51" stroke="#111" stroke-width="2.5" stroke-linecap="round"/><path d="M364.80,1779.27 L362.23,1773.08 M358.35,1774.69 L366.11,1771.47" stroke="#111" stroke-width="2.5" stroke-linecap="round"/><circle cx="376.20" cy="1806.80" r="4.29" fill="none" stroke="#111" stroke-width="2.5"/><circle cx="376.20" cy="1788.86" r="4.29" fill="none" stroke="#111" stroke-width="2.5"/><circle cx="376.20" cy="1824.74" r="4.29" fill="none" stroke="#111" stroke-width="2.5"/><circle cx="358.26" cy="1806.80" r="4.29" fill="none" stroke="#111" stroke-width="2.5"/><circle cx="394.14" cy="1806.80" r="4.29" fill="none" stroke="#111" stroke-width="2.5"/><circle cx="362.25" cy="1792.85" r="2.09" fill="none" stroke="#111" stroke-width="2.5"/><circle cx="362.25" cy="1820.75" r="2.09" fill="none" stroke="#111" stroke-width="2.5"/><circle cx="390.15" cy="1792.85" r="2.09" fill="none" stroke="#111" stroke-width="2.5"/><circle cx="390.15" cy="1820.75" r="2.09" fill="none" stroke="#111" stroke-width="2.5"/><circle cx="488.30" cy="1790.70" r="10.60" fill="none" stroke="#111" stroke-width="2.6"/><circle cx="510.10" cy="1812.80" r="10.60" fill="none" stroke="#111" stroke-width="2.6"/><circle cx="532.40" cy="1791.00" r="10.00" fill="none" stroke="#111" stroke-width="2.6"/><path d="M546.40,1791.00 L551.90,1791.00 M542.30,1800.90 L546.19,1804.79 M532.40,1805.00 L532.40,1810.50 M522.50,1800.90 L518.61,1804.79 M518.40,1791.00 L512.90,1791.00 M522.50,1781.10 L518.61,1777.21 M532.40,1777.00 L532.40,1771.50 M542.30,1781.10 L546.19,1777.21 " stroke="#111" stroke-width="2.6" stroke-linecap="butt"/><circle cx="532.40" cy="1791.00" r="1.10" fill="#111" stroke="#111" stroke-width="0"/><path d="M468.1,1826.7 V1821 Q471,1811.5 493.6,1810.9" fill="none" stroke="#111" stroke-width="2.6" stroke-linecap="round" stroke-linejoin="round"/><path d="M526.6,1810.9 Q549,1811.5 552.6,1821 V1826.7" fill="none" stroke="#111" stroke-width="2.6" stroke-linecap="round" stroke-linejoin="round"/><path d="M488.3,1848.9 V1842 Q490,1833 510.1,1832.7 Q530.5,1833 532.4,1842 V1848.9" fill="none" stroke="#111" stroke-width="2.6" stroke-linecap="round" stroke-linejoin="round"/><circle cx="625.30" cy="1772.80" r="8.20" fill="none" stroke="#111" stroke-width="2.6"/><path d="M606.8,1821.3 V1793 Q611.3,1787 625.3,1787 Q639.3,1787 643.8,1793 V1821.3 H638.8 L635.3,1815 M606.8,1821.3 H611.8 L615.3,1815 M615.5,1799 V1848.9 M635.1,1799 V1848.9 M625.3,1819.3 V1848.9" fill="none" stroke="#111" stroke-width="2.6" stroke-linecap="round" stroke-linejoin="round"/><circle cx="673.30" cy="1772.80" r="8.20" fill="none" stroke="#111" stroke-width="2.6"/><path d="M654.8,1821.3 V1793 Q659.3,1787 673.3,1787 Q687.3,1787 691.8,1793 V1821.3 H686.8 L683.3,1815 M654.8,1821.3 H659.8 L663.3,1815 M663.5,1799 V1848.9 M683.1,1799 V1848.9 M673.3,1819.3 V1848.9" fill="none" stroke="#111" stroke-width="2.6" stroke-linecap="round" stroke-linejoin="round"/><path d="M639.7,1768 Q643,1774 639.7,1780.5 M647.5,1766.5 Q652,1774 647.5,1782 M655.2,1765 Q661,1774 655.2,1783.5" fill="none" stroke="#e3121b" stroke-width="2.5" stroke-linecap="round" stroke-linejoin="round"/><path d="M753.1,1836.8 L759.1,1816.6 Q752,1805 753.1,1789.6 Q755,1766 785.4,1764.7 Q808,1765 812,1783 L816.3,1807.1 L818.4,1817.2 L809.6,1818.6 L808.9,1831 Q807,1836.8 801,1836.8 L793.5,1836.8 L790.1,1848.9 Z M780,1832 L793.5,1836.8" fill="none" stroke="#111" stroke-width="2.6" stroke-linecap="round" stroke-linejoin="round"/><circle cx="783.80" cy="1796.60" r="11.60" fill="none" stroke="#111" stroke-width="2.5"/><path d="M797.60,1796.60 L803.00,1796.60 M793.56,1806.36 L797.38,1810.18 M783.80,1810.40 L783.80,1815.80 M774.04,1806.36 L770.22,1810.18 M770.00,1796.60 L764.60,1796.60 M774.04,1786.84 L770.22,1783.02 M783.80,1782.80 L783.80,1777.40 M793.56,1786.84 L797.38,1783.02 " stroke="#111" stroke-width="2.5" stroke-linecap="butt"/><circle cx="785.38" cy="1792.91" r="1.16" fill="#111" stroke="#111" stroke-width="0"/><circle cx="780.11" cy="1796.92" r="1.16" fill="#111" stroke="#111" stroke-width="0"/><circle cx="785.38" cy="1800.82" r="1.16" fill="#111" stroke="#111" stroke-width="0"/><path d="M818,1825.5 Q821.5,1831 818,1836.5 M825,1825 Q829.5,1832 825,1839.5 M832,1825 Q838,1833 832,1842" fill="none" stroke="#e3121b" stroke-width="2.5" stroke-linecap="round" stroke-linejoin="round"/><path d="M903.8,1776.9 H961.7 L969.1,1786.3 M895,1803.1 V1844.8 H961.7 M963.7,1803.1 V1836.8 M954.3,1826 V1808.5 H905.2 V1833.4 H954.3 M912,1818 L915.5,1814.5 M913.5,1826 L925.5,1814.5" fill="none" stroke="#111" stroke-width="2.6" stroke-linecap="round" stroke-linejoin="round"/><path d="M899,1781 Q889,1786 888.6,1790 Q889,1797 896.5,1797 Q903,1797 904.5,1790 Q905,1797 912.6,1797 Q920.7,1797 920.7,1789 V1785 M920.7,1789 Q920.7,1797 928.8,1797 Q936.9,1797 936.9,1789 V1785 M936.9,1789 Q936.9,1797 945,1797 Q953.1,1797 953.1,1789 V1785 M953.1,1789 Q953.1,1797 961.2,1797 Q969.5,1797 969.3,1789 L969.1,1786.3" fill="none" stroke="#111" stroke-width="2.6" stroke-linecap="round" stroke-linejoin="round"/><path d="M893.8,1770.8 L969.2,1846.9" stroke="#fff" stroke-width="3.8"/><path d="M891.7,1772.8 L967.1,1848.9" stroke="#e3121b" stroke-width="2.7"/><path d="M1055.7,1848.9 V1764.7 L1103.5,1776.8 V1848.9 Z M1048.8,1848.9 H1035.5 V1790.8 L1048.2,1783.6 M1064,1788.9 H1095.1 M1075.8,1801 H1095.1 M1064,1812.8 H1095.1 M1070,1840.8 H1089.2 M1041.7,1801 H1049.1 M1041.7,1812.8 H1049.1" fill="none" stroke="#111" stroke-width="2.7" stroke-linejoin="round" stroke-linecap="butt"/><path d="M1038.2,1767.0 L1113.0,1842.5" stroke="#fff" stroke-width="3.8"/><path d="M1036.1,1769.0 L1110.9,1844.5" stroke="#e3121b" stroke-width="2.7"/><path d="M100.9,1899.0 C99.4,1904.1 94.8,1908.0 94.8,1913.5 A6.1,6.1 0 0 0 107.0,1913.5 C107.0,1908.0 102.4,1904.1 100.9,1899.0 Z" fill="none" stroke="#111" stroke-width="2.5" stroke-linecap="round" stroke-linejoin="round"/><path d="M133.1,1901.0 C131.6,1905.6 127.0,1908.7 127.0,1914.2 A6.1,6.1 0 0 0 139.2,1914.2 C139.2,1908.7 134.6,1905.6 133.1,1901.0 Z" fill="none" stroke="#111" stroke-width="2.5" stroke-linecap="round" stroke-linejoin="round"/><path d="M116.0,1915.0 C114.1,1920.9 108.4,1925.1 108.4,1931.9 A7.6,7.6 0 0 0 123.6,1931.9 C123.6,1925.1 117.9,1920.9 116.0,1915.0 Z" fill="none" stroke="#111" stroke-width="2.5" stroke-linecap="round" stroke-linejoin="round"/><path d="M75.8,1959.7 L86.1,1955.5 L95.9,1977.8 L89.7,1982 M91.7,1955.5 Q99,1946 110,1948 L121,1949.9 Q130,1951 129,1956 Q127,1960 121,1960.2 L114.1,1960.2 M129,1956 L142,1950 Q150,1941 151.8,1943.7 Q151,1955 141,1964 L126.6,1972.2 L100.1,1972.2" fill="none" stroke="#111" stroke-width="2.5" stroke-linecap="round" stroke-linejoin="round"/><path d="M241.2,1897.3 L275.6,1931.7 V1982 H206.9 V1931.7 Z" fill="none" stroke="#111" stroke-width="2.6" stroke-linecap="round" stroke-linejoin="round"/><path d="M218.9,1970.8 Q227.8,1961.2 236.2,1956.1 L231.7,1947.1 C227.2,1922.5 255.2,1922.5 250.7,1947.1 L246.2,1956.1 Q254.6,1961.2 263.5,1970.8" fill="none" stroke="#111" stroke-width="2.5" stroke-linecap="round" stroke-linejoin="round"/><circle cx="375.40" cy="1943.70" r="38.80" fill="none" stroke="#111" stroke-width="2.6" stroke-dasharray="3,3.8"/><path d="M351.6,1965.2 Q361.1,1953.2 369.8,1951.9 L364.8,1941.9 C359.8,1914.4 391.0,1914.4 386.0,1941.9 L381.0,1951.9 Q389.7,1953.2 399.2,1965.2" fill="none" stroke="#e3121b" stroke-width="2.5" stroke-linecap="round" stroke-linejoin="round"/><path d="M510.4,1897.3 L544.5,1931.7 V1982 H476 V1931.7 Z" fill="none" stroke="#111" stroke-width="2.6" stroke-linejoin="round" stroke-dasharray="3,3.8" stroke-linecap="butt"/><path d="M487.4,1970.8 Q496.6,1961.2 505.4,1956.1 L500.9,1947.1 C496.4,1922.5 524.4,1922.5 519.9,1947.1 L515.4,1956.1 Q524.2,1961.2 533.4,1970.8" fill="none" stroke="#e3121b" stroke-width="2.5" stroke-linecap="round" stroke-linejoin="round"/><path d="M673,1916 A38.7,38.7 0 1 0 681,1927 M662.5,1924.5 A24.6,24.6 0 1 0 668,1932 M652,1935 A10.4,10.4 0 1 0 656,1941" fill="none" stroke="#111" stroke-width="2.6" stroke-linecap="round" stroke-linejoin="round"/><path d="M646.7,1943.8 L680,1910.4 M666,1914 L666,1922.5 L674,1922.5 M674,1914 L676,1903 L681,1908 L686,1913 L677,1915 Z" fill="none" stroke="#111" stroke-width="2.4" stroke-linecap="round" stroke-linejoin="round"/><path d="M756.8,1969.9 L764.1,1949.6 Q758.3,1938 756.8,1920.6 Q758,1899 788.7,1897.4 Q812,1899 817.7,1917.7 L820.6,1933.6 M756.8,1969.9 L794.5,1981.4 M788.7,1939.4 L822,1936.5 Q825,1965 811.9,1970.4 L788.7,1965.5 Q784,1952 788.7,1939.4 M781.4,1938 Q774,1940 772,1932 Q771,1923 778,1924.5 M780,1938.5 Q776,1949 783,1962" fill="none" stroke="#111" stroke-width="2.4" stroke-linecap="round" stroke-linejoin="round"/><path d="M898.8,1942.3 Q910,1925.8 929.3,1925.8 Q948.6,1925.8 959.7,1942.3 Q962,1982 929.3,1982 Q896.6,1982 898.8,1942.3 Z M898.8,1942.3 Q888,1934 887.2,1944 Q889,1956 901.7,1964 M959.7,1942.3 Q970.5,1934 971.3,1944 Q969.5,1956 956.9,1964 M919.1,1946.1 H939.6 M919.1,1953.9 H939.6 M919.1,1961.7 H939.6" fill="none" stroke="#111" stroke-width="2.5" stroke-linecap="round" stroke-linejoin="round"/><path d="M1033.6,1909 L1052.5,1907.5 L1055.4,1923.5 L1048.1,1930.7 Q1053,1945 1062.6,1956.8 L1072.8,1953.9 L1087.2,1966.4 L1077.1,1981.4 Q1050,1967 1038,1938 Q1033,1925 1033.6,1909 Z" fill="none" stroke="#111" stroke-width="2.5" stroke-linecap="round" stroke-linejoin="round"/><path d="M1071.5,1936.5 Q1068.2,1925 1073,1915 Q1080,1904 1090.7,1904.2 Q1113.2,1904.2 1113.2,1922 Q1113.2,1939.8 1090.7,1939.8 Q1082,1940 1077,1937 L1069.9,1943.8 Z" fill="none" stroke="#111" stroke-width="2.5" stroke-linecap="round" stroke-linejoin="round"/><text x="98.1" y="1732.4" font-size="17" fill="#bdbdc1" font-weight="normal" textLength="29.1" lengthAdjust="spacingAndGlyphs">Ban</text><text x="199.9" y="1732.4" font-size="17" fill="#bdbdc1" font-weight="normal" textLength="82.7" lengthAdjust="spacingAndGlyphs">Stop Virus</text><text x="358.2" y="1732.4" font-size="17" fill="#bdbdc1" font-weight="normal" textLength="36.6" lengthAdjust="spacingAndGlyphs">Stop</text><text x="329.6" y="1747.8" font-size="17" fill="#bdbdc1" font-weight="normal" textLength="93.7" lengthAdjust="spacingAndGlyphs">Coronavirus</text><text x="457.4" y="1732.4" font-size="17" fill="#bdbdc1" font-weight="normal" textLength="103.4" lengthAdjust="spacingAndGlyphs">Do Not Walk</text><text x="596.1" y="1732.4" font-size="17" fill="#bdbdc1" font-weight="normal" textLength="106.1" lengthAdjust="spacingAndGlyphs">Ban Crowded</text><text x="624.7" y="1747.8" font-size="17" fill="#bdbdc1" font-weight="normal" textLength="47.7" lengthAdjust="spacingAndGlyphs">Places</text><text x="733.9" y="1732.4" font-size="17" fill="#bdbdc1" font-weight="normal" textLength="110.2" lengthAdjust="spacingAndGlyphs">Do Not Touch</text><text x="873.8" y="1732.4" font-size="17" fill="#bdbdc1" font-weight="normal" textLength="110.3" lengthAdjust="spacingAndGlyphs">Do Not Touch</text><text x="1034.7" y="1732.4" font-size="17" fill="#bdbdc1" font-weight="normal" textLength="76.8" lengthAdjust="spacingAndGlyphs">Flight Ban</text><text x="62.3" y="1876.4" font-size="17" fill="#bdbdc1" font-weight="normal" textLength="100.7" lengthAdjust="spacingAndGlyphs">Animal Virus</text><text x="220.7" y="1876.4" font-size="17" fill="#bdbdc1" font-weight="normal" textLength="41.1" lengthAdjust="spacingAndGlyphs">Virus</text><text x="329.6" y="1876.4" font-size="17" fill="#bdbdc1" font-weight="normal" textLength="93.7" lengthAdjust="spacingAndGlyphs">Coronavirus</text><text x="486.1" y="1876.4" font-size="17" fill="#bdbdc1" font-weight="normal" textLength="48.6" lengthAdjust="spacingAndGlyphs">Group</text><text x="593.5" y="1876.4" font-size="17" fill="#bdbdc1" font-weight="normal" textLength="111.0" lengthAdjust="spacingAndGlyphs">Keep Distance</text><text x="754.7" y="1876.4" font-size="17" fill="#bdbdc1" font-weight="normal" textLength="69.7" lengthAdjust="spacingAndGlyphs">Infection</text><text x="877.2" y="1876.4" font-size="17" fill="#bdbdc1" font-weight="normal" textLength="104.5" lengthAdjust="spacingAndGlyphs">Stop Business</text><text x="1025.8" y="1876.4" font-size="17" fill="#bdbdc1" font-weight="normal" textLength="94.2" lengthAdjust="spacingAndGlyphs">Stop Offices</text><text x="65.7" y="2007.0" font-size="17" fill="#bdbdc1" font-weight="normal" textLength="93.9" lengthAdjust="spacingAndGlyphs">Disinfection</text><text x="198.1" y="2007.0" font-size="17" fill="#bdbdc1" font-weight="normal" textLength="86.3" lengthAdjust="spacingAndGlyphs">Stay Home</text><text x="333.0" y="2007.0" font-size="17" fill="#bdbdc1" font-weight="normal" textLength="87.1" lengthAdjust="spacingAndGlyphs">Quarantine</text><text x="486.4" y="2007.0" font-size="17" fill="#bdbdc1" font-weight="normal" textLength="47.7" lengthAdjust="spacingAndGlyphs">Home</text><text x="467.2" y="2022.9" font-size="17" fill="#bdbdc1" font-weight="normal" textLength="86.1" lengthAdjust="spacingAndGlyphs">Quarantine</text><text x="623.3" y="2007.0" font-size="17" fill="#bdbdc1" font-weight="normal" textLength="47.3" lengthAdjust="spacingAndGlyphs">Target</text><text x="752.6" y="2007.0" font-size="17" fill="#bdbdc1" font-weight="normal" textLength="73.2" lengthAdjust="spacingAndGlyphs">Use Mask</text><text x="908.6" y="2007.0" font-size="17" fill="#bdbdc1" font-weight="normal" textLength="40.2" lengthAdjust="spacingAndGlyphs">Mask</text><text x="1038.4" y="2007.0" font-size="17" fill="#bdbdc1" font-weight="normal" textLength="69.5" lengthAdjust="spacingAndGlyphs">Get Help</text><text x="1686.2" y="322.6" font-size="17" fill="#bdbdc1" font-weight="normal" textLength="64.3" lengthAdjust="spacingAndGlyphs">Caution</text><text x="1794.3" y="322.6" font-size="17" fill="#bdbdc1" font-weight="normal" textLength="82.5" lengthAdjust="spacingAndGlyphs">Biohazard</text><text x="1925.3" y="322.6" font-size="17" fill="#bdbdc1" font-weight="normal" textLength="37.3" lengthAdjust="spacingAndGlyphs">Stop</text><text x="1649.7" y="1692.8" font-size="28" fill="#e3121b" font-weight="normal" textLength="135.0" lengthAdjust="spacingAndGlyphs">Confirmed</text><text x="1648.7" y="1734.3" font-size="28" fill="#0a9a14" font-weight="normal" textLength="134.8" lengthAdjust="spacingAndGlyphs">Recovered</text><text x="1648.7" y="1774.6" font-size="28" fill="#8a55cc" font-weight="normal" textLength="77.0" lengthAdjust="spacingAndGlyphs">Death</text><text x="1269.7" y="1624.4" font-size="36" fill="#777" font-weight="normal" textLength="53.2" lengthAdjust="spacingAndGlyphs">10+</text><text x="1420.1" y="1624.4" font-size="36" fill="#777" font-weight="normal" textLength="75.0" lengthAdjust="spacingAndGlyphs">100+</text><text x="1423.5" y="1665.4" font-size="36" fill="#e3121b" font-weight="normal" textLength="42.3" lengthAdjust="spacingAndGlyphs">20</text><text x="1214.2" y="1997.9" font-size="37" fill="#7a7a7a" font-weight="normal" textLength="110.4" lengthAdjust="spacingAndGlyphs">Stage 1</text><text x="1337.2" y="1997.9" font-size="37" fill="#7a7a7a" font-weight="normal" textLength="21.8" lengthAdjust="spacingAndGlyphs">—</text><text x="1371.2" y="1997.9" font-size="37" fill="#7a7a7a" font-weight="bold" textLength="156.2" lengthAdjust="spacingAndGlyphs">Pandemic</text><text x="1647.2" y="1997.9" font-size="37" fill="#7a7a7a" font-weight="normal" textLength="117.3" lengthAdjust="spacingAndGlyphs">Stage 2</text><text x="1778.2" y="1997.9" font-size="37" fill="#7a7a7a" font-weight="normal" textLength="21.2" lengthAdjust="spacingAndGlyphs">—</text><text x="1811.2" y="1997.9" font-size="37" fill="#7a7a7a" font-weight="bold" textLength="151.0" lengthAdjust="spacingAndGlyphs">Recovery</text><circle cx="115.60" cy="532.65" r="29.90" fill="none" stroke="#111" stroke-width="2.6"/><path d="M115.60,502.75 L115.60,490.65 M108.90,490.65 L122.30,490.65" stroke="#111" stroke-width="2.6" stroke-linecap="round"/><path d="M127.04,505.03 L129.38,499.39 M125.03,497.59 L133.72,501.19" stroke="#111" stroke-width="2.6" stroke-linecap="round"/><path d="M136.74,511.51 L145.30,502.95 M140.56,498.21 L150.04,507.69" stroke="#111" stroke-width="2.6" stroke-linecap="round"/><path d="M143.22,521.21 L148.86,518.87 M147.06,514.53 L150.66,523.22" stroke="#111" stroke-width="2.6" stroke-linecap="round"/><path d="M145.50,532.65 L157.60,532.65 M157.60,525.95 L157.60,539.35" stroke="#111" stroke-width="2.6" stroke-linecap="round"/><path d="M143.22,544.09 L148.86,546.43 M150.66,542.08 L147.06,550.77" stroke="#111" stroke-width="2.6" stroke-linecap="round"/><path d="M136.74,553.79 L145.30,562.35 M150.04,557.61 L140.56,567.09" stroke="#111" stroke-width="2.6" stroke-linecap="round"/><path d="M127.04,560.27 L129.38,565.91 M133.72,564.11 L125.03,567.71" stroke="#111" stroke-width="2.6" stroke-linecap="round"/><path d="M115.60,562.55 L115.60,574.65 M122.30,574.65 L108.90,574.65" stroke="#111" stroke-width="2.6" stroke-linecap="round"/><path d="M104.16,560.27 L101.82,565.91 M106.17,567.71 L97.48,564.11" stroke="#111" stroke-width="2.6" stroke-linecap="round"/><path d="M94.46,553.79 L85.90,562.35 M90.64,567.09 L81.16,557.61" stroke="#111" stroke-width="2.6" stroke-linecap="round"/><path d="M87.98,544.09 L82.34,546.43 M84.14,550.77 L80.54,542.08" stroke="#111" stroke-width="2.6" stroke-linecap="round"/><path d="M85.70,532.65 L73.60,532.65 M73.60,539.35 L73.60,525.95" stroke="#111" stroke-width="2.6" stroke-linecap="round"/><path d="M87.98,521.21 L82.34,518.87 M80.54,523.22 L84.14,514.53" stroke="#111" stroke-width="2.6" stroke-linecap="round"/><path d="M94.46,511.51 L85.90,502.95 M81.16,507.69 L90.64,498.21" stroke="#111" stroke-width="2.6" stroke-linecap="round"/><path d="M104.16,505.03 L101.82,499.39 M97.48,501.19 L106.17,497.59" stroke="#111" stroke-width="2.6" stroke-linecap="round"/><circle cx="115.60" cy="532.65" r="4.15" fill="none" stroke="#111" stroke-width="2.6"/><circle cx="102.90" cy="519.95" r="4.15" fill="none" stroke="#111" stroke-width="2.6"/><circle cx="102.90" cy="545.35" r="4.15" fill="none" stroke="#111" stroke-width="2.6"/><circle cx="128.30" cy="519.95" r="4.15" fill="none" stroke="#111" stroke-width="2.6"/><circle cx="128.30" cy="545.35" r="4.15" fill="none" stroke="#111" stroke-width="2.6"/><circle cx="115.60" cy="512.75" r="2.05" fill="none" stroke="#111" stroke-width="2.6"/><circle cx="115.60" cy="552.55" r="2.05" fill="none" stroke="#111" stroke-width="2.6"/><circle cx="95.70" cy="532.65" r="2.05" fill="none" stroke="#111" stroke-width="2.6"/><circle cx="135.50" cy="532.65" r="2.05" fill="none" stroke="#111" stroke-width="2.6"/><circle cx="115.70" cy="651.70" r="29.90" fill="none" stroke="#111" stroke-width="2.6"/><path d="M115.70,621.80 L115.70,609.70 M109.00,609.70 L122.40,609.70" stroke="#111" stroke-width="2.6" stroke-linecap="round"/><path d="M127.14,624.08 L129.48,618.44 M125.13,616.64 L133.82,620.24" stroke="#111" stroke-width="2.6" stroke-linecap="round"/><path d="M136.84,630.56 L145.40,622.00 M140.66,617.26 L150.14,626.74" stroke="#111" stroke-width="2.6" stroke-linecap="round"/><path d="M143.32,640.26 L148.96,637.92 M147.16,633.58 L150.76,642.27" stroke="#111" stroke-width="2.6" stroke-linecap="round"/><path d="M145.60,651.70 L157.70,651.70 M157.70,645.00 L157.70,658.40" stroke="#111" stroke-width="2.6" stroke-linecap="round"/><path d="M143.32,663.14 L148.96,665.48 M150.76,661.13 L147.16,669.82" stroke="#111" stroke-width="2.6" stroke-linecap="round"/><path d="M136.84,672.84 L145.40,681.40 M150.14,676.66 L140.66,686.14" stroke="#111" stroke-width="2.6" stroke-linecap="round"/><path d="M127.14,679.32 L129.48,684.96 M133.82,683.16 L125.13,686.76" stroke="#111" stroke-width="2.6" stroke-linecap="round"/><path d="M115.70,681.60 L115.70,693.70 M122.40,693.70 L109.00,693.70" stroke="#111" stroke-width="2.6" stroke-linecap="round"/><path d="M104.26,679.32 L101.92,684.96 M106.27,686.76 L97.58,683.16" stroke="#111" stroke-width="2.6" stroke-linecap="round"/><path d="M94.56,672.84 L86.00,681.40 M90.74,686.14 L81.26,676.66" stroke="#111" stroke-width="2.6" stroke-linecap="round"/><path d="M88.08,663.14 L82.44,665.48 M84.24,669.82 L80.64,661.13" stroke="#111" stroke-width="2.6" stroke-linecap="round"/><path d="M85.80,651.70 L73.70,651.70 M73.70,658.40 L73.70,645.00" stroke="#111" stroke-width="2.6" stroke-linecap="round"/><path d="M88.08,640.26 L82.44,637.92 M80.64,642.27 L84.24,633.58" stroke="#111" stroke-width="2.6" stroke-linecap="round"/><path d="M94.56,630.56 L86.00,622.00 M81.26,626.74 L90.74,617.26" stroke="#111" stroke-width="2.6" stroke-linecap="round"/><path d="M104.26,624.08 L101.92,618.44 M97.58,620.24 L106.27,616.64" stroke="#111" stroke-width="2.6" stroke-linecap="round"/><circle cx="115.70" cy="651.70" r="4.30" fill="none" stroke="#111" stroke-width="2.6"/><circle cx="115.70" cy="633.70" r="4.30" fill="none" stroke="#111" stroke-width="2.6"/><circle cx="115.70" cy="669.70" r="4.30" fill="none" stroke="#111" stroke-width="2.6"/><circle cx="97.70" cy="651.70" r="4.30" fill="none" stroke="#111" stroke-width="2.6"/><circle cx="133.70" cy="651.70" r="4.30" fill="none" stroke="#111" stroke-width="2.6"/><circle cx="101.70" cy="637.70" r="2.10" fill="none" stroke="#111" stroke-width="2.6"/><circle cx="101.70" cy="665.70" r="2.10" fill="none" stroke="#111" stroke-width="2.6"/><circle cx="129.70" cy="637.70" r="2.10" fill="none" stroke="#111" stroke-width="2.6"/><circle cx="129.70" cy="665.70" r="2.10" fill="none" stroke="#111" stroke-width="2.6"/><circle cx="139.70" cy="676.30" r="24.50" fill="#fff" stroke="#fff" stroke-width="0"/><circle cx="139.70" cy="676.30" r="18.80" fill="none" stroke="#0f9d45" stroke-width="2.5"/><path d="M130.5,676 L137,682.5 L149,670.5" fill="none" stroke="#0f9d45" stroke-width="2.5" stroke-linecap="round" stroke-linejoin="round"/><circle cx="115.70" cy="769.70" r="29.90" fill="none" stroke="#111" stroke-width="2.6"/><path d="M115.70,739.80 L115.70,727.70 M109.00,727.70 L122.40,727.70" stroke="#111" stroke-width="2.6" stroke-linecap="round"/><path d="M127.14,742.08 L129.48,736.44 M125.13,734.64 L133.82,738.24" stroke="#111" stroke-width="2.6" stroke-linecap="round"/><path d="M136.84,748.56 L145.40,740.00 M140.66,735.26 L150.14,744.74" stroke="#111" stroke-width="2.6" stroke-linecap="round"/><path d="M143.32,758.26 L148.96,755.92 M147.16,751.58 L150.76,760.27" stroke="#111" stroke-width="2.6" stroke-linecap="round"/><path d="M145.60,769.70 L157.70,769.70 M157.70,763.00 L157.70,776.40" stroke="#111" stroke-width="2.6" stroke-linecap="round"/><path d="M143.32,781.14 L148.96,783.48 M150.76,779.13 L147.16,787.82" stroke="#111" stroke-width="2.6" stroke-linecap="round"/><path d="M136.84,790.84 L145.40,799.40 M150.14,794.66 L140.66,804.14" stroke="#111" stroke-width="2.6" stroke-linecap="round"/><path d="M127.14,797.32 L129.48,802.96 M133.82,801.16 L125.13,804.76" stroke="#111" stroke-width="2.6" stroke-linecap="round"/><path d="M115.70,799.60 L115.70,811.70 M122.40,811.70 L109.00,811.70" stroke="#111" stroke-width="2.6" stroke-linecap="round"/><path d="M104.26,797.32 L101.92,802.96 M106.27,804.76 L97.58,801.16" stroke="#111" stroke-width="2.6" stroke-linecap="round"/><path d="M94.56,790.84 L86.00,799.40 M90.74,804.14 L81.26,794.66" stroke="#111" stroke-width="2.6" stroke-linecap="round"/><path d="M88.08,781.14 L82.44,783.48 M84.24,787.82 L80.64,779.13" stroke="#111" stroke-width="2.6" stroke-linecap="round"/><path d="M85.80,769.70 L73.70,769.70 M73.70,776.40 L73.70,763.00" stroke="#111" stroke-width="2.6" stroke-linecap="round"/><path d="M88.08,758.26 L82.44,755.92 M80.64,760.27 L84.24,751.58" stroke="#111" stroke-width="2.6" stroke-linecap="round"/><path d="M94.56,748.56 L86.00,740.00 M81.26,744.74 L90.74,735.26" stroke="#111" stroke-width="2.6" stroke-linecap="round"/><path d="M104.26,742.08 L101.92,736.44 M97.58,738.24 L106.27,734.64" stroke="#111" stroke-width="2.6" stroke-linecap="round"/><circle cx="115.70" cy="769.70" r="4.30" fill="none" stroke="#111" stroke-width="2.6"/><circle cx="115.70" cy="751.70" r="4.30" fill="none" stroke="#111" stroke-width="2.6"/><circle cx="115.70" cy="787.70" r="4.30" fill="none" stroke="#111" stroke-width="2.6"/><circle cx="97.70" cy="769.70" r="4.30" fill="none" stroke="#111" stroke-width="2.6"/><circle cx="133.70" cy="769.70" r="4.30" fill="none" stroke="#111" stroke-width="2.6"/><circle cx="101.70" cy="755.70" r="2.10" fill="none" stroke="#111" stroke-width="2.6"/><circle cx="101.70" cy="783.70" r="2.10" fill="none" stroke="#111" stroke-width="2.6"/><circle cx="129.70" cy="755.70" r="2.10" fill="none" stroke="#111" stroke-width="2.6"/><circle cx="129.70" cy="783.70" r="2.10" fill="none" stroke="#111" stroke-width="2.6"/><circle cx="139.70" cy="794.30" r="24.50" fill="#fff" stroke="#fff" stroke-width="0"/><circle cx="139.70" cy="794.30" r="18.80" fill="none" stroke="#e3121b" stroke-width="2.5"/><path d="M127,807 L152.5,781.5" fill="none" stroke="#e3121b" stroke-width="2.5" stroke-linecap="round" stroke-linejoin="round"/><g transform="translate(88.50,941.30) scale(1.000)"><path d="M11,46 V10 a5,5 0 0 1 10,0 V38 M21,10 V5.5 a5,5 0 0 1 10,0 V39 M31,10 a5,5 0 0 1 10,0 V41 M41,17 a5.25,5.25 0 0 1 10.5,0 V60 C51.5,71 42,77.5 30,77.5 C14,77.5 1.5,68 1,55 V34 C1,28.5 10,28.5 10,34 V47 C20,47 28,52 30,60" fill="none" stroke="#111" stroke-width="2.6" stroke-linecap="round" stroke-linejoin="round"/></g><path d="M79.3,940.3 L155.9,1016.4" stroke="#fff" stroke-width="3.8"/><path d="M77.3,942.4 L153.9,1018.5" stroke="#e3121b" stroke-width="2.7"/><circle cx="115.70" cy="1092.20" r="29.90" fill="none" stroke="#111" stroke-width="2.6"/><path d="M115.70,1062.30 L115.70,1049.60 M109.40,1049.60 L122.00,1049.60" stroke="#e3121b" stroke-width="2.6" stroke-linecap="round"/><path d="M127.14,1064.58 L129.48,1058.94 M125.32,1057.22 L133.63,1060.66" stroke="#111" stroke-width="2.6" stroke-linecap="round"/><path d="M136.84,1071.06 L145.82,1062.08 M141.37,1057.62 L150.28,1066.53" stroke="#e3121b" stroke-width="2.6" stroke-linecap="round"/><path d="M143.32,1080.76 L148.96,1078.42 M147.24,1074.27 L150.68,1082.58" stroke="#111" stroke-width="2.6" stroke-linecap="round"/><path d="M145.60,1092.20 L158.30,1092.20 M158.30,1085.90 L158.30,1098.50" stroke="#e3121b" stroke-width="2.6" stroke-linecap="round"/><path d="M143.32,1103.64 L148.96,1105.98 M150.68,1101.82 L147.24,1110.13" stroke="#111" stroke-width="2.6" stroke-linecap="round"/><path d="M136.84,1113.34 L145.82,1122.32 M150.28,1117.87 L141.37,1126.78" stroke="#e3121b" stroke-width="2.6" stroke-linecap="round"/><path d="M127.14,1119.82 L129.48,1125.46 M133.63,1123.74 L125.32,1127.18" stroke="#111" stroke-width="2.6" stroke-linecap="round"/><path d="M115.70,1122.10 L115.70,1134.80 M122.00,1134.80 L109.40,1134.80" stroke="#e3121b" stroke-width="2.6" stroke-linecap="round"/><path d="M104.26,1119.82 L101.92,1125.46 M106.08,1127.18 L97.77,1123.74" stroke="#111" stroke-width="2.6" stroke-linecap="round"/><path d="M94.56,1113.34 L85.58,1122.32 M90.03,1126.78 L81.12,1117.87" stroke="#e3121b" stroke-width="2.6" stroke-linecap="round"/><path d="M88.08,1103.64 L82.44,1105.98 M84.16,1110.13 L80.72,1101.82" stroke="#111" stroke-width="2.6" stroke-linecap="round"/><path d="M85.80,1092.20 L73.10,1092.20 M73.10,1098.50 L73.10,1085.90" stroke="#e3121b" stroke-width="2.6" stroke-linecap="round"/><path d="M88.08,1080.76 L82.44,1078.42 M80.72,1082.58 L84.16,1074.27" stroke="#111" stroke-width="2.6" stroke-linecap="round"/><path d="M94.56,1071.06 L85.58,1062.08 M81.12,1066.53 L90.03,1057.62" stroke="#e3121b" stroke-width="2.6" stroke-linecap="round"/><path d="M104.26,1064.58 L101.92,1058.94 M97.77,1060.66 L106.08,1057.22" stroke="#111" stroke-width="2.6" stroke-linecap="round"/><circle cx="115.70" cy="1092.20" r="4.15" fill="none" stroke="#111" stroke-width="2.6"/><circle cx="103.00" cy="1079.50" r="4.15" fill="none" stroke="#111" stroke-width="2.6"/><circle cx="103.00" cy="1104.90" r="4.15" fill="none" stroke="#111" stroke-width="2.6"/><circle cx="128.40" cy="1079.50" r="4.15" fill="none" stroke="#111" stroke-width="2.6"/><circle cx="128.40" cy="1104.90" r="4.15" fill="none" stroke="#111" stroke-width="2.6"/><circle cx="115.70" cy="1072.30" r="2.05" fill="none" stroke="#e3121b" stroke-width="2.6"/><circle cx="115.70" cy="1112.10" r="2.05" fill="none" stroke="#e3121b" stroke-width="2.6"/><circle cx="95.80" cy="1092.20" r="2.05" fill="none" stroke="#e3121b" stroke-width="2.6"/><circle cx="135.60" cy="1092.20" r="2.05" fill="none" stroke="#e3121b" stroke-width="2.6"/><circle cx="115.70" cy="1195.70" r="11.40" fill="none" stroke="#111" stroke-width="2.2"/><path d="M128.20,1195.70 L135.70,1195.70 M124.54,1204.54 L129.84,1209.84 M115.70,1208.20 L115.70,1215.70 M106.86,1204.54 L101.56,1209.84 M103.20,1195.70 L95.70,1195.70 M106.86,1186.86 L101.56,1181.56 M115.70,1183.20 L115.70,1175.70 M124.54,1186.86 L129.84,1181.56 " stroke="#111" stroke-width="2.2"/><circle cx="117.50" cy="1192.00" r="1.10" fill="#111" stroke="#111" stroke-width="0"/><circle cx="112.50" cy="1196.50" r="1.10" fill="#111" stroke="#111" stroke-width="0"/><circle cx="117.80" cy="1200.00" r="1.10" fill="#111" stroke="#111" stroke-width="0"/><path d="M1714.4,229.5 Q1718,224.5 1721.6,229.5 L1752.5,282 Q1756,289.5 1748,289.5 H1688 Q1680,289.5 1683.5,282 Z" fill="none" stroke="#111" stroke-width="2.3" stroke-linecap="round" stroke-linejoin="round"/><path d="M1718,248 V273.5" fill="none" stroke="#e3121b" stroke-width="2.2" stroke-linejoin="round" stroke-linecap="butt"/><path d="M1718,276.3 V279.2" fill="none" stroke="#e3121b" stroke-width="2.2" stroke-linejoin="round" stroke-linecap="butt"/><path d="M1848.22,223.35 A20.50,20.50 0 1 1 1822.98,223.35 M1862.77,292.26 A20.50,20.50 0 1 1 1875.39,270.40 M1795.81,270.40 A20.50,20.50 0 1 1 1808.43,292.26 M1824.99,249.36 A16.50,16.50 0 0 1 1846.21,249.36 M1851.85,259.13 A16.50,16.50 0 0 1 1841.24,277.50 M1829.96,277.50 A16.50,16.50 0 0 1 1819.35,259.13 " fill="none" stroke="#111" stroke-width="2.3" stroke-linejoin="round" stroke-linecap="butt"/><g transform="translate(1918.20,219.20) scale(1.000)"><path d="M11,46 V10 a5,5 0 0 1 10,0 V38 M21,10 V5.5 a5,5 0 0 1 10,0 V39 M31,10 a5,5 0 0 1 10,0 V41 M41,17 a5.25,5.25 0 0 1 10.5,0 V60 C51.5,71 42,77.5 30,77.5 C14,77.5 1.5,68 1,55 V34 C1,28.5 10,28.5 10,34 V47 C20,47 28,52 30,60" fill="none" stroke="#111" stroke-width="2.3" stroke-linecap="round" stroke-linejoin="round"/></g>
</svg>
</body></html>
